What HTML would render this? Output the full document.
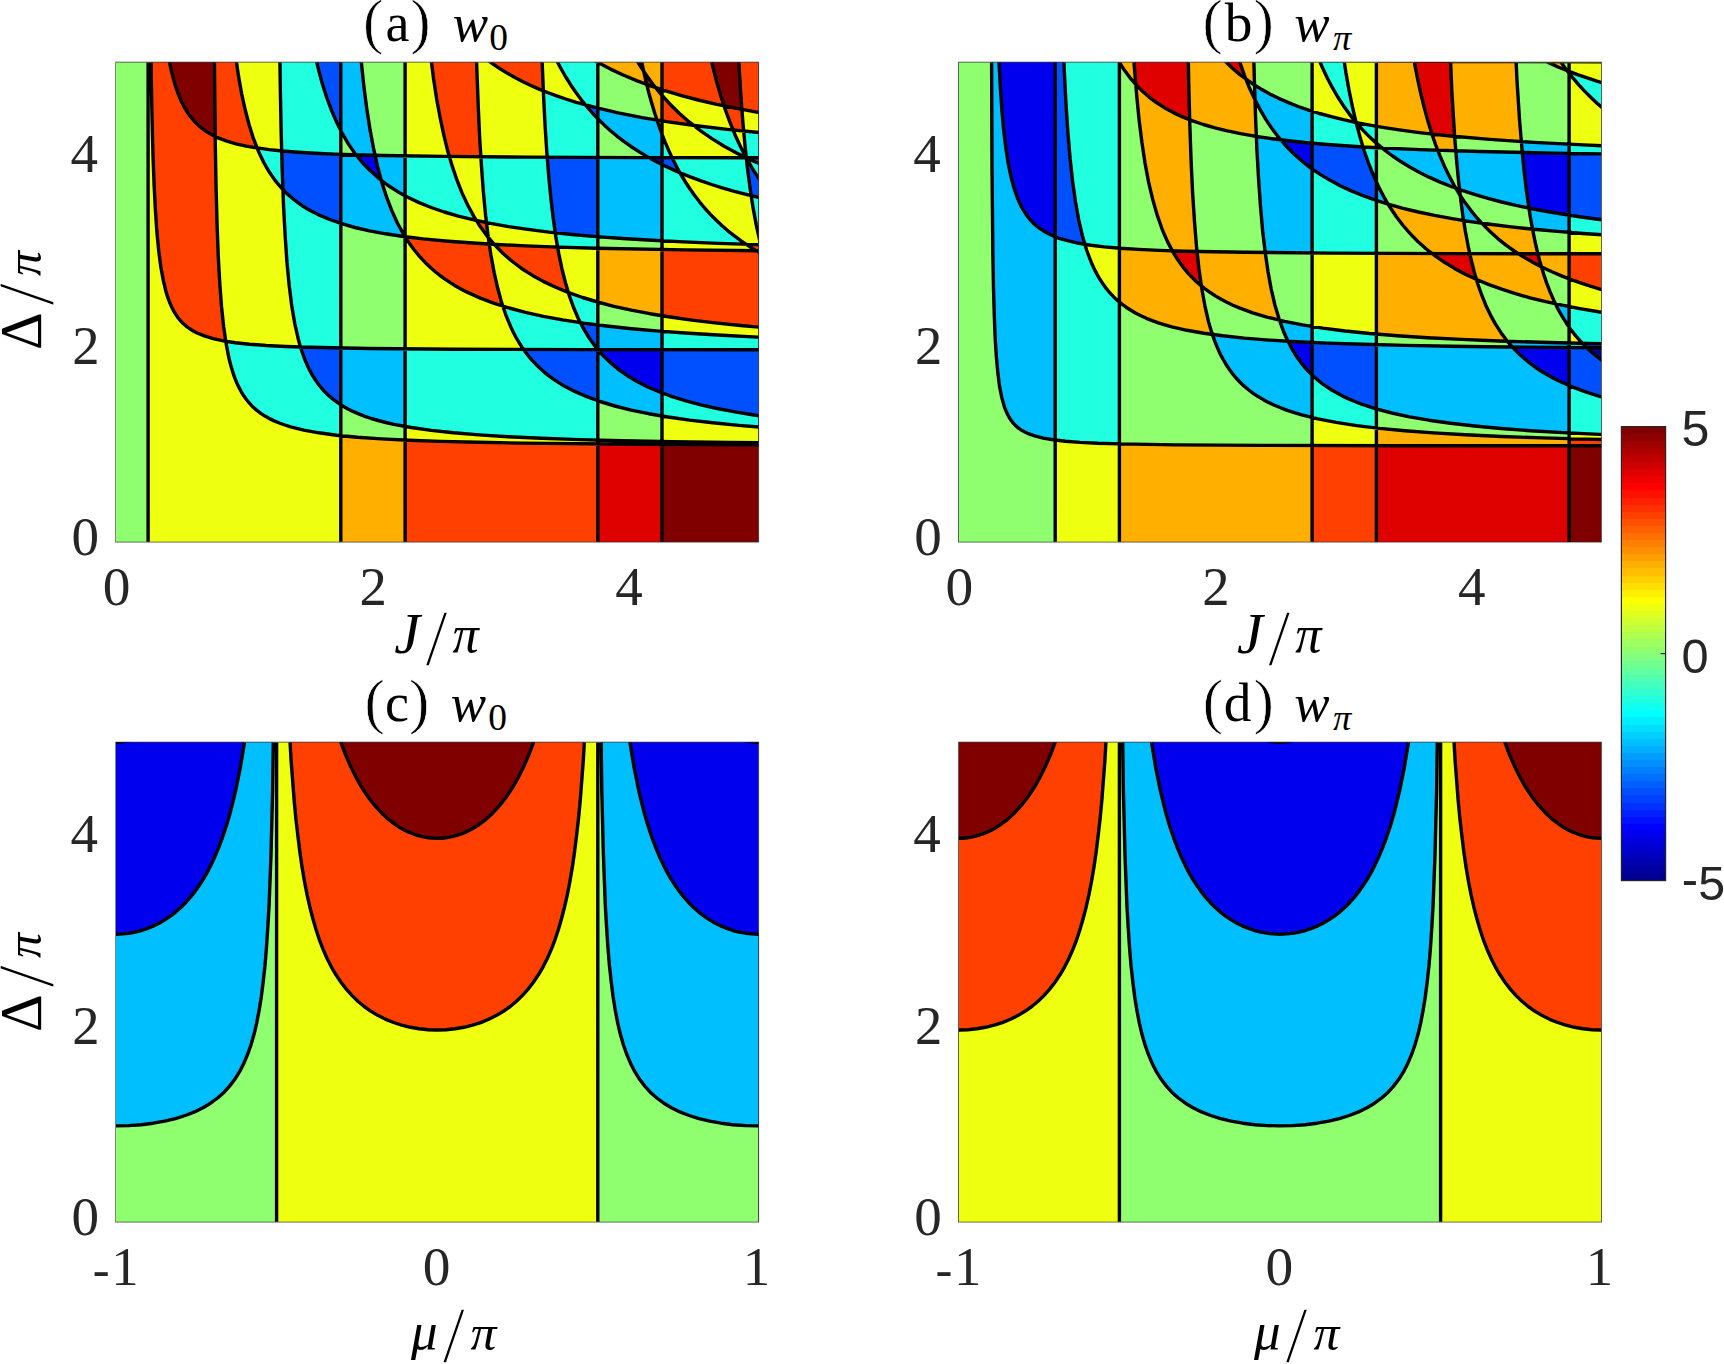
<!DOCTYPE html>
<html lang="en"><head><meta charset="utf-8"><title>Winding numbers w0 and w&#960; phase diagrams</title>
<style>html,body{margin:0;padding:0;background:#fff;}svg{display:block;}text{font-family:"Liberation Serif", "DejaVu Serif", serif;fill:#262626;}text.k{fill:#000;}.a{font-family:"Liberation Sans", "DejaVu Sans", sans-serif;}</style></head><body>
<svg width="1724" height="1364" viewBox="0 0 1724 1364">
<defs><clipPath id="cp"><rect x="0" y="0" width="642.4" height="479.4"/></clipPath>
<linearGradient id="jet" x1="0" y1="0" x2="0" y2="1"><stop offset="0.0000" stop-color="#800000"/><stop offset="0.0156" stop-color="#800000"/><stop offset="0.0156" stop-color="#8f0000"/><stop offset="0.0312" stop-color="#8f0000"/><stop offset="0.0312" stop-color="#9f0000"/><stop offset="0.0469" stop-color="#9f0000"/><stop offset="0.0469" stop-color="#af0000"/><stop offset="0.0625" stop-color="#af0000"/><stop offset="0.0625" stop-color="#bf0000"/><stop offset="0.0781" stop-color="#bf0000"/><stop offset="0.0781" stop-color="#cf0000"/><stop offset="0.0938" stop-color="#cf0000"/><stop offset="0.0938" stop-color="#df0000"/><stop offset="0.1094" stop-color="#df0000"/><stop offset="0.1094" stop-color="#ef0000"/><stop offset="0.1250" stop-color="#ef0000"/><stop offset="0.1250" stop-color="#ff0000"/><stop offset="0.1406" stop-color="#ff0000"/><stop offset="0.1406" stop-color="#ff1000"/><stop offset="0.1562" stop-color="#ff1000"/><stop offset="0.1562" stop-color="#ff2000"/><stop offset="0.1719" stop-color="#ff2000"/><stop offset="0.1719" stop-color="#ff3000"/><stop offset="0.1875" stop-color="#ff3000"/><stop offset="0.1875" stop-color="#ff4000"/><stop offset="0.2031" stop-color="#ff4000"/><stop offset="0.2031" stop-color="#ff5000"/><stop offset="0.2188" stop-color="#ff5000"/><stop offset="0.2188" stop-color="#ff6000"/><stop offset="0.2344" stop-color="#ff6000"/><stop offset="0.2344" stop-color="#ff7000"/><stop offset="0.2500" stop-color="#ff7000"/><stop offset="0.2500" stop-color="#ff8000"/><stop offset="0.2656" stop-color="#ff8000"/><stop offset="0.2656" stop-color="#ff8f00"/><stop offset="0.2812" stop-color="#ff8f00"/><stop offset="0.2812" stop-color="#ff9f00"/><stop offset="0.2969" stop-color="#ff9f00"/><stop offset="0.2969" stop-color="#ffaf00"/><stop offset="0.3125" stop-color="#ffaf00"/><stop offset="0.3125" stop-color="#ffbf00"/><stop offset="0.3281" stop-color="#ffbf00"/><stop offset="0.3281" stop-color="#ffcf00"/><stop offset="0.3438" stop-color="#ffcf00"/><stop offset="0.3438" stop-color="#ffdf00"/><stop offset="0.3594" stop-color="#ffdf00"/><stop offset="0.3594" stop-color="#ffef00"/><stop offset="0.3750" stop-color="#ffef00"/><stop offset="0.3750" stop-color="#ffff00"/><stop offset="0.3906" stop-color="#ffff00"/><stop offset="0.3906" stop-color="#efff10"/><stop offset="0.4062" stop-color="#efff10"/><stop offset="0.4062" stop-color="#dfff20"/><stop offset="0.4219" stop-color="#dfff20"/><stop offset="0.4219" stop-color="#cfff30"/><stop offset="0.4375" stop-color="#cfff30"/><stop offset="0.4375" stop-color="#bfff40"/><stop offset="0.4531" stop-color="#bfff40"/><stop offset="0.4531" stop-color="#afff50"/><stop offset="0.4688" stop-color="#afff50"/><stop offset="0.4688" stop-color="#9fff60"/><stop offset="0.4844" stop-color="#9fff60"/><stop offset="0.4844" stop-color="#8fff70"/><stop offset="0.5000" stop-color="#8fff70"/><stop offset="0.5000" stop-color="#80ff80"/><stop offset="0.5156" stop-color="#80ff80"/><stop offset="0.5156" stop-color="#70ff8f"/><stop offset="0.5312" stop-color="#70ff8f"/><stop offset="0.5312" stop-color="#60ff9f"/><stop offset="0.5469" stop-color="#60ff9f"/><stop offset="0.5469" stop-color="#50ffaf"/><stop offset="0.5625" stop-color="#50ffaf"/><stop offset="0.5625" stop-color="#40ffbf"/><stop offset="0.5781" stop-color="#40ffbf"/><stop offset="0.5781" stop-color="#30ffcf"/><stop offset="0.5938" stop-color="#30ffcf"/><stop offset="0.5938" stop-color="#20ffdf"/><stop offset="0.6094" stop-color="#20ffdf"/><stop offset="0.6094" stop-color="#10ffef"/><stop offset="0.6250" stop-color="#10ffef"/><stop offset="0.6250" stop-color="#00ffff"/><stop offset="0.6406" stop-color="#00ffff"/><stop offset="0.6406" stop-color="#00efff"/><stop offset="0.6562" stop-color="#00efff"/><stop offset="0.6562" stop-color="#00dfff"/><stop offset="0.6719" stop-color="#00dfff"/><stop offset="0.6719" stop-color="#00cfff"/><stop offset="0.6875" stop-color="#00cfff"/><stop offset="0.6875" stop-color="#00bfff"/><stop offset="0.7031" stop-color="#00bfff"/><stop offset="0.7031" stop-color="#00afff"/><stop offset="0.7188" stop-color="#00afff"/><stop offset="0.7188" stop-color="#009fff"/><stop offset="0.7344" stop-color="#009fff"/><stop offset="0.7344" stop-color="#008fff"/><stop offset="0.7500" stop-color="#008fff"/><stop offset="0.7500" stop-color="#0080ff"/><stop offset="0.7656" stop-color="#0080ff"/><stop offset="0.7656" stop-color="#0070ff"/><stop offset="0.7812" stop-color="#0070ff"/><stop offset="0.7812" stop-color="#0060ff"/><stop offset="0.7969" stop-color="#0060ff"/><stop offset="0.7969" stop-color="#0050ff"/><stop offset="0.8125" stop-color="#0050ff"/><stop offset="0.8125" stop-color="#0040ff"/><stop offset="0.8281" stop-color="#0040ff"/><stop offset="0.8281" stop-color="#0030ff"/><stop offset="0.8438" stop-color="#0030ff"/><stop offset="0.8438" stop-color="#0020ff"/><stop offset="0.8594" stop-color="#0020ff"/><stop offset="0.8594" stop-color="#0010ff"/><stop offset="0.8750" stop-color="#0010ff"/><stop offset="0.8750" stop-color="#0000ff"/><stop offset="0.8906" stop-color="#0000ff"/><stop offset="0.8906" stop-color="#0000ef"/><stop offset="0.9062" stop-color="#0000ef"/><stop offset="0.9062" stop-color="#0000df"/><stop offset="0.9219" stop-color="#0000df"/><stop offset="0.9219" stop-color="#0000cf"/><stop offset="0.9375" stop-color="#0000cf"/><stop offset="0.9375" stop-color="#0000bf"/><stop offset="0.9531" stop-color="#0000bf"/><stop offset="0.9531" stop-color="#0000af"/><stop offset="0.9688" stop-color="#0000af"/><stop offset="0.9688" stop-color="#00009f"/><stop offset="0.9844" stop-color="#00009f"/><stop offset="0.9844" stop-color="#00008f"/><stop offset="1.0000" stop-color="#00008f"/></linearGradient></defs>
<rect width="1724" height="1364" fill="#fff"/>
<rect x="116" y="62.4" width="642.4" height="479.4" fill="none" stroke="#262626" stroke-opacity="0.8" stroke-width="1.4"/>
<g transform="translate(116,62.4)" clip-path="url(#cp)">
<rect width="642.4" height="479.4" fill="#000"/>
<g shape-rendering="crispEdges">
<path fill="#0000ef" fill-rule="evenodd" d="M546 95.2L533 95.2L539 98.5L546 102.1ZM254.1 108.2L262.5 115.7L265.3 117.9L261.5 103.7L259 92.8L240 92.3L246.3 100.1ZM481.9 287.2L486.5 292.6L494.1 300L502.3 306.9L511.4 313.3L521.1 319.1L531.8 324.6L543.6 329.6L546 330.5L546 287.3Z"/>
<path fill="#0050ff" fill-rule="evenodd" d="M210.7 35.1L215.5 48L220.8 60.2L224.8 68.2L224.8 0L200.8 0L202.1 5.6L206.2 21ZM170.3 130.5L174.2 134.1L178.4 137.6L182.6 140.8L187.1 143.9L191.9 146.8L197 149.6L202.2 152.2L213.6 157.1L224.8 161L224.8 91.9L218.5 91.7L198.9 90.8L182 89.8L166.7 88.6L165.7 88.5L166.3 110.6L167 127.2ZM437.2 155.9L439.3 170.3L455.9 172.1L480.2 174.2L481.8 174.3L481.8 95L431.2 94.8L432.8 114.4L434.9 136.2ZM481.8 287.1L481.8 262.5L467.6 260.7L464.4 260.2L467.5 266.2L473.2 275.6L479.5 284.4ZM412.7 293.9L416.4 298.2L420.3 302.3L424.3 306.2L428.4 309.9L432.9 313.5L437.7 316.9L442.6 320.2L447.7 323.3L458.7 329L470.8 334.3L481.8 338.3L481.8 287.2L469.8 287.2L407.6 287L409.3 289.5ZM190.8 301.8L193.4 307.3L196.1 312.4L199.1 317.1L202.3 321.7L205.7 325.9L209.3 329.9L213.1 333.6L217.2 337L221.6 340.2L224.8 342.4L224.8 285.5L193.2 284.9L184.5 284.6L186.2 289.9L188.4 296.1ZM475.9 50.1L481.8 56.3L481.8 45.7L480 45.3L469.3 42.4L470.2 43.5ZM630.4 95.4L634.7 97.5L642.4 100.8L642.4 95.4ZM556.3 107L563.9 110.3L560.5 104.1L556.5 96.2L556 95.2L546 95.2L546 102.1L547.5 102.8ZM634.1 126L635.2 133.2L642.4 134.9L642.4 115.4L636.3 106L630.3 95.5L631.4 105.4ZM584.8 342.4L601.2 346.1L619 349.5L638 352.6L642.4 353.2L642.4 287.4L546 287.3L546 330.5L556.2 334.3L569.9 338.5Z"/>
<path fill="#00bfff" fill-rule="evenodd" d="M239.2 91.3L240 92.3L259 92.8L257.6 86.3L254 67L250.7 45.9L247.8 23.2L245.3 0L224.8 0L224.8 68.2L226.4 71.3L232.5 81.7ZM542.1 61L541 57.6L526.2 55.2L502.2 50.5L481.8 45.7L481.8 56.3L481.9 56.4L488.1 62.5L494.5 68.3L501.2 73.9L508.2 79.2L515.3 84.3L522.9 89.2L530.8 94L533 95.2L546 95.2L546 71.9L545.5 70.5ZM259 92.8L261.5 103.7L265.3 117.9L271.4 122.6L281.3 129L289.1 133.4L289.1 93.4L266.6 93.1ZM281.5 160.8L275.8 148.2L270.6 134.7L265.8 120L265.3 117.9L262.5 115.7L254.1 108.2L246.3 100.1L240 92.3L224.8 91.9L224.8 161L225.7 161.3L238.9 165.1L253.6 168.4L269.6 171.4L287.5 174.1L289.1 174.3L287.8 172.2ZM533 95.2L523 95.2L481.8 95L481.8 174.3L506.8 176.1L535.8 177.9L546 178.4L546 102.1L539 98.5ZM515.6 266.3L490.6 263.6L481.8 262.5L481.8 287.1L481.9 287.2L546 287.3L546 269L543 268.7ZM531.8 324.6L521.1 319.1L511.4 313.3L502.3 306.9L494.1 300L486.5 292.6L481.9 287.2L481.8 287.2L481.8 338.3L484.1 339.1L498.9 343.6L515.2 347.7L532.8 351.3L546 353.6L546 330.5L543.6 329.6ZM224.8 285.5L224.8 342.4L226.4 343.4L231.5 346.3L236.9 349L242.7 351.5L248.8 353.9L255.3 356.1L262.3 358.1L269.8 360.1L277.9 361.9L289.1 364L289.1 286.4L252.5 286.1Z"/>
<path fill="#20ffdf" fill-rule="evenodd" d="M166.7 88.6L182 89.8L198.9 90.8L218.5 91.7L224.8 91.9L224.8 68.2L220.8 60.2L215.5 48L210.7 35.1L206.2 21L202.1 5.6L200.8 0L163.9 0L164.3 25.2L165.2 71.2L165.7 88.5ZM431.2 94.8L481.8 95L481.8 56.3L475.9 50.1L470.2 43.5L469.3 42.4L459.5 39.7L449.8 36.6L440.6 33.4L431.6 30.1L427.4 28.4L427.7 36.5L429.2 65.2L430.9 91ZM141.2 85.5L141.1 85.5L142.2 88.3L147.4 99.3L150.2 104.4L153.1 109.3L156.3 114L159.5 118.5L163 122.8L166.5 126.7L167 127.2L166.3 110.6L165.7 88.5L153.2 87.2ZM328.3 149.6L342.4 153.7L357.9 157.5L360.4 158L357.8 154L351.8 142.8L346.1 130.7L341 117.8L336.3 104L333.4 94.1L328.2 94L289.1 93.4L289.1 133.4L291.8 134.9L303.1 140.2L315.2 145.1ZM410.1 94.7L364.9 94.3L365.5 104.1L367.4 129.9L369.6 152.8L370.5 160.2L374.7 161L392.6 164.2L411.9 167L433 169.7L439.3 170.3L437.2 155.9L434.9 136.2L432.8 114.4L431.2 94.8ZM480 185.8L481.8 185.8L481.8 174.3L480.2 174.2L455.9 172.1L439.3 170.3L439.8 174.3L441.6 184.7L443.1 184.7ZM373.3 181.6L378.2 181.9L372.3 175ZM175.7 243.1L178.7 260.9L182.2 276.3L184.1 283.3L184.5 284.6L193.2 284.9L224.8 285.5L224.8 161L213.6 157.1L202.2 152.2L197 149.6L191.9 146.8L187.1 143.9L182.6 140.8L178.4 137.6L174.2 134.1L170.3 130.5L167 127.2L167.6 144.6L169.2 174.1L171 200.3L173.2 223.1ZM464.4 260.2L446.6 257.5L427.3 253.9L409.5 250L393.1 245.6L386.8 243.7L389.8 252.4L394.7 264.2L397.3 269.8L400.1 275.1L403 280.1L406 284.8L407.6 287L469.8 287.2L481.8 287.2L481.8 287.1L479.5 284.4L473.2 275.6L467.5 266.2ZM205.7 325.9L202.3 321.7L199.1 317.1L196.1 312.4L193.4 307.3L190.8 301.8L188.4 296.1L186.2 289.9L184.5 284.6L169.6 284.1L150.2 283.1L133.6 281.8L119.4 280.3L109.8 278.8L110.1 281.1L113 296L114.7 302.6L116.5 308.7L118.4 314.5L120.5 319.8L122.8 324.7L125.3 329.4L127.9 333.7L130.8 337.6L133.9 341.3L137.3 344.9L140.9 348L144.8 351L149 353.7L153.4 356.2L158.1 358.5L163.3 360.6L168.9 362.6L174.7 364.5L187.8 367.7L202.9 370.4L220.6 372.8L224.8 373.2L224.8 342.4L221.6 340.2L217.2 337L213.1 333.6L209.3 329.9ZM362.9 372.5L392.2 374.3L425.8 375.9L463.3 377.2L481.8 377.7L481.8 338.3L470.8 334.3L458.7 329L447.7 323.3L442.6 320.2L437.7 316.9L432.9 313.5L428.4 309.9L424.3 306.2L420.3 302.3L416.4 298.2L412.7 293.9L409.3 289.5L407.6 287L338.8 286.8L289.1 286.4L289.1 364L295.3 365.1L315.2 368L337.6 370.4ZM441.7 0L445.2 6.6L449.8 14.6L454.6 22.3L459.6 29.6L464.9 36.8L469.3 42.4L480 45.3L481.8 45.7L481.8 0ZM611.2 67L580.5 63.4L577.7 63L584.4 68.3L595.9 76.2L608.2 83.8L621 90.8L630.2 95.3L624.6 84.4L619.2 72.8L617.1 67.5ZM627.7 68.5L629 83.1L630.3 95.3L630.4 95.4L642.4 95.4L642.4 70ZM546 71.9L546 95.2L556 95.2L552.7 88L549 79.4ZM630.4 95.4L630.3 95.4L630.3 95.5L636.3 106L642.4 115.4L642.4 100.8L634.7 97.5ZM556.5 96.2L560.5 104.1L563.9 110.3L565.4 111L575 114.8L585.1 118.5L595.6 122.1L606.3 125.4L617.5 128.7L629.1 131.7L635.2 133.2L634.1 126L631.4 105.4L630.3 95.5L630.2 95.4L556 95.2ZM625.1 178.4L618.4 173.5L611.9 168.4L605.8 163.1L599.8 157.4L594.1 151.7L588.6 145.6L583.5 139.4L578.5 132.9L573.7 126.1L569.1 119.1L564.7 111.8L563.9 110.3L556.3 107L547.5 102.8L546 102.1L546 178.4L567.6 179.5L602.6 181L630.1 181.8ZM642.4 134.9L635.2 133.2L637 145L640.3 162.7L642.4 172ZM464.4 260.2L467.6 260.7L481.8 262.5L481.8 239.7L481.6 239.6L466.6 235.1L452.7 230.2L452.4 230.1L453.3 233.2L457.6 245.1L462.3 256.1ZM606.1 272.9L573 270.9L546 269L546 287.3L642.4 287.4L642.4 274.7L641.7 274.7ZM622.6 363L642.4 364.6L642.4 353.2L638 352.6L619 349.5L601.2 346.1L584.8 342.4L569.9 338.5L556.2 334.3L546 330.5L546 353.6L552.2 354.6L573.6 357.7L596.8 360.4Z"/>
<path fill="#8fff70" fill-rule="evenodd" d="M247.8 23.2L250.7 45.9L254 67L257.6 86.3L259 92.8L266.6 93.1L289.1 93.4L289.1 0L245.3 0ZM522.9 89.2L515.3 84.3L508.2 79.2L501.2 73.9L494.5 68.3L488.1 62.5L481.9 56.4L481.8 56.3L481.8 95L523 95.2L533 95.2L530.8 94ZM224.8 68.2L224.8 91.9L240 92.3L239.2 91.3L232.5 81.7L226.4 71.3ZM265.3 117.9L265.8 120L270.6 134.7L275.8 148.2L281.5 160.8L287.8 172.2L289.1 174.3L289.1 133.4L281.3 129L271.4 122.6ZM253.6 168.4L238.9 165.1L225.7 161.3L224.8 161L224.8 285.5L252.5 286.1L289.1 286.4L289.1 174.3L287.5 174.1L269.6 171.4ZM32.1 479.4L32.1 0L0 0L0 479.4ZM262.3 358.1L255.3 356.1L248.8 353.9L242.7 351.5L236.9 349L231.5 346.3L226.4 343.4L224.8 342.4L224.8 373.2L241.4 374.8L265.3 376.5L289.1 377.7L289.1 364L277.9 361.9L269.8 360.1ZM522 0L527.8 9.1L525.7 0ZM482.5 0.4L481.8 0L481.8 45.7L502.2 50.5L526.2 55.2L541 57.6L538.9 51.3L535.9 41.3L532.9 30.7L530.7 22L520.6 18.2L507.2 12.6L494.5 6.7ZM546 32.9L546 27.3L539.6 25.1L544.5 31.3ZM545.5 70.5L546 71.9L546 58.5L541 57.6L542.1 61ZM481.8 174.3L481.8 185.8L546 187.1L546 178.4L535.8 177.9L506.8 176.1ZM497.9 243.9L481.8 239.7L481.8 262.5L490.6 263.6L515.6 266.3L543 268.7L546 269L546 253.3L533.9 251.3L515.3 247.8ZM498.9 343.6L484.1 339.1L481.8 338.3L481.8 377.7L506.4 378.3L546 379.1L546 353.6L532.8 351.3L515.2 347.7Z"/>
<path fill="#efff10" fill-rule="evenodd" d="M120.5 0L122.4 13L125.6 31.1L129.2 47.4L133.1 62.4L137.4 76L141.1 85.5L141.2 85.5L153.2 87.2L165.7 88.5L165.2 71.2L164.3 25.2L163.9 0ZM331.8 88.9L327.9 73L324.2 55.6L320.7 36.8L317.6 16.6L315.5 0L289.1 0L289.1 93.4L328.2 94L333.4 94.1ZM427.4 28.4L423.1 26.7L414.9 23.1L407 19.3L399.4 15.4L392 11.2L384.9 6.9L378.2 2.4L374.8 0L360.6 0L361 10.6L362.3 45.3L363.7 76L364.9 94.3L410.1 94.7L431.2 94.8L430.9 91L429.2 65.2L427.7 36.5ZM357.8 154L360.4 158L370.5 160.2L369.6 152.8L367.4 129.9L365.5 104.1L364.9 94.3L333.4 94.1L336.3 104L341 117.8L346.1 130.7L351.8 142.8ZM353.5 180.4L373.3 181.6L372.3 175L371.4 174L364.4 164.4L360.4 158L357.9 157.5L342.4 153.7L328.3 149.6L315.2 145.1L303.1 140.2L291.8 134.9L289.1 133.4L289.1 174.3L307.2 176.5L329.2 178.6ZM411.9 167L392.6 164.2L374.7 161L370.5 160.2L372.1 173.8L372.3 175L378.2 181.9L380.3 182.1L409.7 183.5L441.6 184.7L439.8 174.3L439.3 170.3L433 169.7ZM175.7 243.1L173.2 223.1L171 200.3L169.2 174.1L167.6 144.6L167 127.2L166.5 126.7L163 122.8L159.5 118.5L156.3 114L153.1 109.3L150.2 104.4L147.4 99.3L142.2 88.3L141.1 85.5L130.2 83.7L120 81.4L110.9 78.7L102.8 75.7L99.2 73.9L99.3 83.1L100.1 126.3L101.1 163.1L102.3 194.8L103.8 221.4L105.5 244L107.6 263.8L109.8 278.8L119.4 280.3L133.6 281.8L150.2 283.1L169.6 284.1L184.5 284.6L184.1 283.3L182.2 276.3L178.7 260.9ZM452.4 230.1L439.7 224.9L427.7 219.2L416.5 213L405.9 206.3L396.4 199.1L387.4 191.4L379.1 183L378.2 181.9L373.3 181.6L374.9 192.6L378.1 209.9L381.6 225.4L385.4 239.5L386.8 243.7L393.1 245.6L409.5 250L427.3 253.9L446.6 257.5L464.4 260.2L462.3 256.1L457.6 245.1L453.3 233.2ZM403 280.1L400.1 275.1L397.3 269.8L394.7 264.2L389.8 252.4L386.8 243.7L378.2 240.9L364.4 235.7L351.6 230L345.8 227L340 223.8L334.7 220.5L329.4 217L324.5 213.4L319.6 209.6L315 205.6L310.5 201.4L306.3 197L302.2 192.4L298.3 187.6L294.7 182.8L291.1 177.5L289.1 174.3L289.1 286.4L338.8 286.8L407.6 287L406 284.8ZM202.9 370.4L187.8 367.7L174.7 364.5L168.9 362.6L163.3 360.6L158.1 358.5L153.4 356.2L149 353.7L144.8 351L140.9 348L137.3 344.9L133.9 341.3L130.8 337.6L127.9 333.7L125.3 329.4L122.8 324.7L120.5 319.8L118.4 314.5L116.5 308.7L114.7 302.6L113 296L110.1 281.1L109.8 278.8L107.5 278.5L97.2 276.2L88.3 273.5L80.6 270.3L76.9 268.3L73.4 266.1L70.1 263.7L67.2 261.1L64.4 258.2L61.9 255.1L59.6 251.7L57.4 248L55.4 244L53.5 239.6L51.7 234.8L50.1 229.6L47.3 218L44.8 204.3L42.7 188.3L40.9 169.6L39.4 147.8L38.1 122.6L37 93.2L36.1 58.8L35.3 18.8L35.1 0L32.1 0L32.1 479.4L224.8 479.4L224.8 373.2L220.6 372.8ZM362.2 379.9L406.2 380.7L481.8 381.5L481.8 377.7L463.3 377.2L425.8 375.9L392.2 374.3L362.9 372.5L337.6 370.4L315.2 368L295.3 365.1L289.1 364L289.1 377.7L292.8 377.9L324.5 379ZM440.6 33.4L449.8 36.6L459.5 39.7L469.3 42.4L464.9 36.8L459.6 29.6L454.6 22.3L449.8 14.6L445.2 6.6L441.7 0L426.2 0L426.4 5.6L427.4 28.4L431.6 30.1ZM573.5 59.8L577.7 63L580.5 63.4L611.2 67L617.1 67.5L614.2 60.5L609.4 47.6L608.1 43.4L599.7 41.7L582.2 37.6L565.5 33.2L549.7 28.5L546 27.3L546 32.9L553.6 41.3L563.2 50.8ZM642.4 70L642.4 49.9L638 49.2L625.9 46.9L626.8 58.7L627.7 68.5ZM630.2 95.4L630.2 95.3L621 90.8L608.2 83.8L595.9 76.2L584.4 68.3L577.7 63L552.4 59.5L546 58.5L546 71.9L549 79.4L552.7 88L556 95.2ZM630.3 95.3L629 83.1L627.7 68.5L617.1 67.5L619.2 72.8L624.6 84.4L630.2 95.3ZM635.2 133.2L629.1 131.7L617.5 128.7L606.3 125.4L595.6 122.1L585.1 118.5L575 114.8L565.4 111L563.9 110.3L564.7 111.8L569.1 119.1L573.7 126.1L578.5 132.9L583.5 139.4L588.6 145.6L594.1 151.7L599.8 157.4L605.8 163.1L611.9 168.4L618.4 173.5L625.1 178.4L630.1 181.8L642.4 182.2L642.4 172L640.3 162.7L637 145ZM632.1 183.2L630.1 181.8L602.6 181L567.6 179.5L546 178.4L546 187.1L569.1 187.5L640.5 188.4L639.4 187.7ZM452.4 230.1L452.7 230.2L466.6 235.1L481.6 239.6L481.8 239.7L481.8 185.8L480 185.8L443.1 184.7L441.6 184.7L442.7 191L445.9 206.2L449.4 220.1ZM642.4 274.7L642.4 264.6L624.6 263.1L599 260.5L575.8 257.7L554.1 254.6L546 253.3L546 269L573 270.9L606.1 272.9L641.7 274.7ZM642.4 364.6L622.6 363L596.8 360.4L573.6 357.7L552.2 354.6L546 353.6L546 379.1L556.1 379.3L613.7 380.1L642.4 380.3Z"/>
<path fill="#ffaf00" fill-rule="evenodd" d="M481.8 0L482.5 0.4L494.5 6.7L507.2 12.6L520.6 18.2L530.7 22L530.2 19.9L527.8 9.1L522 0ZM527.8 9.1L527.9 9.3L535.9 20.6L539.6 25.1L546 27.3L546 0L525.7 0ZM539.6 25.1L534.7 23.5L530.7 22L532.9 30.7L535.9 41.3L538.9 51.3L541 57.6L546 58.5L546 32.9L544.5 31.3ZM481.8 185.8L481.8 239.7L497.9 243.9L515.3 247.8L533.9 251.3L546 253.3L546 187.1ZM481.8 377.7L481.8 381.5L519.4 381.8L546 381.9L546 379.1L506.4 378.3ZM241.4 374.8L224.8 373.2L224.8 479.4L289.1 479.4L289.1 377.7L265.3 376.5Z"/>
<path fill="#ff4000" fill-rule="evenodd" d="M374.8 0L378.2 2.4L384.9 6.9L392 11.2L399.4 15.4L407 19.3L414.9 23.1L423.1 26.7L427.4 28.4L426.4 5.6L426.2 0ZM130.2 83.7L141.1 85.5L137.4 76L133.1 62.4L129.2 47.4L125.6 31.1L122.4 13L120.5 0L98.4 0L99.2 73.9L102.8 75.7L110.9 78.7L120 81.4ZM327.9 73L331.8 88.9L333.4 94.1L364.9 94.3L363.7 76L362.3 45.3L361 10.6L360.6 0L315.5 0L317.6 16.6L320.7 36.8L324.2 55.6ZM38.1 122.6L39.4 147.8L40.9 169.6L42.7 188.3L44.8 204.3L47.3 218L50.1 229.6L51.7 234.8L53.5 239.6L55.4 244L57.4 248L59.6 251.7L61.9 255.1L64.4 258.2L67.2 261.1L70.1 263.7L73.4 266.1L76.9 268.3L80.6 270.3L88.3 273.5L97.2 276.2L107.5 278.5L109.8 278.8L107.6 263.8L105.5 244L103.8 221.4L102.3 194.8L101.1 163.1L100.1 126.3L99.3 83.1L99.2 73.9L95.6 72.2L89.1 68.3L83.3 63.7L78.1 58.6L73.3 52.8L69.1 46.2L65.2 38.7L61.8 30.4L58.6 21L55.8 10.5L53.6 0L35.1 0L35.3 18.8L36.1 58.8L37 93.2ZM372.1 173.8L370.5 160.2L360.4 158L364.4 164.4L371.4 174L372.3 175ZM441.6 184.7L409.7 183.5L380.3 182.1L378.2 181.9L379.1 183L387.4 191.4L396.4 199.1L405.9 206.3L416.5 213L427.7 219.2L439.7 224.9L452.4 230.1L449.4 220.1L445.9 206.2L442.7 191ZM289.1 174.3L291.1 177.5L294.7 182.8L298.3 187.6L302.2 192.4L306.3 197L310.5 201.4L315 205.6L319.6 209.6L324.5 213.4L329.4 217L334.7 220.5L340 223.8L345.8 227L351.6 230L364.4 235.7L378.2 240.9L386.8 243.7L385.4 239.5L381.6 225.4L378.1 209.9L374.9 192.6L373.3 181.6L353.5 180.4L329.2 178.6L307.2 176.5ZM406.2 380.7L362.2 379.9L324.5 379L292.8 377.9L289.1 377.7L289.1 479.4L481.8 479.4L481.8 381.5ZM582.2 37.6L599.7 41.7L608.1 43.4L604.9 33.9L600.7 19.5L596.8 4.2L595.8 0L546 0L546 27.3L549.7 28.5L565.5 33.2ZM622.9 0L623 3.3L624.8 32.2L625.9 46.9L638 49.2L642.4 49.9L642.4 0ZM573.5 59.8L563.2 50.8L553.6 41.3L546 32.9L546 58.5L552.4 59.5L577.7 63ZM627.7 68.5L626.8 58.7L625.9 46.9L618.3 45.5L608.1 43.4L609.4 47.6L614.2 60.5L617.1 67.5ZM640.5 188.4L642.4 188.4L642.4 182.2L630.1 181.8L632.1 183.2L639.4 187.7ZM599 260.5L624.6 263.1L642.4 264.6L642.4 189.4L640.5 188.4L569.1 187.5L546 187.1L546 253.3L554.1 254.6L575.8 257.7ZM613.7 380.1L556.1 379.3L546 379.1L546 381.9L642.4 382.4L642.4 380.3Z"/>
<path fill="#df0000" fill-rule="evenodd" d="M535.9 20.6L527.9 9.3L527.8 9.1L530.2 19.9L530.7 22L534.7 23.5L539.6 25.1ZM546 381.9L519.4 381.8L481.8 381.5L481.8 479.4L546 479.4Z"/>
<path fill="#800000" fill-rule="evenodd" d="M600.7 19.5L604.9 33.9L608.1 43.4L618.3 45.5L625.9 46.9L624.8 32.2L623 3.3L622.9 0L595.8 0L596.8 4.2ZM58.6 21L61.8 30.4L65.2 38.7L69.1 46.2L73.3 52.8L78.1 58.6L83.3 63.7L89.1 68.3L95.6 72.2L99.2 73.9L98.4 0L53.6 0L55.8 10.5ZM642.4 189.4L642.4 188.4L640.5 188.4ZM642.4 479.4L642.4 382.4L546 381.9L546 479.4Z"/>
</g>
<path fill="none" stroke="#000" stroke-width="3.4" stroke-linejoin="round" d="M546 -3L546 482.4M595.1 -3L596.8 4.2L600.7 19.5L604.9 33.9L609.4 47.6L614.2 60.5L619.2 72.8L624.6 84.4L630.3 95.5L636.3 106L642.7 115.9L645.4 119.6M426.1 -3L426.4 5.6L427.7 36.5L429.2 65.2L430.9 91L432.8 114.4L434.9 136.2L437.2 155.9L439.8 174.3L442.7 191L445.9 206.2L449.4 220.1L453.3 233.2L457.6 245.1L462.3 256.1L467.5 266.2L473.2 275.6L479.5 284.4L486.5 292.6L494.1 300L502.3 306.9L511.4 313.3L521.1 319.1L531.8 324.6L543.6 329.6L556.2 334.3L569.9 338.5L584.8 342.4L601.2 346.1L619 349.5L638 352.6L645.4 353.6M520.2 -3L520.4 -2.6L527.9 9.3L535.9 20.6L544.5 31.3L553.6 41.3L563.2 50.8L573.5 59.8L584.4 68.3L595.9 76.2L608.2 83.8L621 90.8L634.7 97.5L645.4 102.1M289.1 -3L289.1 482.4M315.1 -3L317.6 16.6L320.7 36.8L324.2 55.6L327.9 73L331.8 88.9L336.3 104L341 117.8L346.1 130.7L351.8 142.8L357.8 154L364.4 164.4L371.4 174L379.1 183L387.4 191.4L396.4 199.1L405.9 206.3L416.5 213L427.7 219.2L439.7 224.9L452.7 230.2L466.6 235.1L481.6 239.6L497.9 243.9L515.3 247.8L533.9 251.3L554.1 254.6L575.8 257.7L599 260.5L624.6 263.1L645.4 264.9M476.7 -3L482.5 0.4L494.5 6.7L507.2 12.6L520.6 18.2L534.7 23.5L549.7 28.5L565.5 33.2L582.2 37.6L599.7 41.7L618.3 45.5L638 49.2L645.4 50.4M163.9 -3L164.3 25.2L165.2 71.2L166.3 110.6L167.6 144.6L169.2 174.1L171 200.3L173.2 223.1L175.7 243.1L178.7 260.9L182.2 276.3L184.1 283.3L186.2 289.9L188.4 296.1L190.8 301.8L193.4 307.3L196.1 312.4L199.1 317.1L202.3 321.7L205.7 325.9L209.3 329.9L213.1 333.6L217.2 337L221.6 340.2L226.4 343.4L231.5 346.3L236.9 349L242.7 351.5L248.8 353.9L255.3 356.1L262.3 358.1L269.8 360.1L277.9 361.9L295.3 365.1L315.2 368L337.6 370.4L362.9 372.5L392.2 374.3L425.8 375.9L463.3 377.2L506.4 378.3L556.1 379.3L613.7 380.1L645.4 380.4M200.1 -3L202.1 5.6L206.2 21L210.7 35.1L215.5 48L220.8 60.2L226.4 71.3L232.5 81.7L239.2 91.3L246.3 100.1L254.1 108.2L262.5 115.7L271.4 122.6L281.3 129L291.8 134.9L303.1 140.2L315.2 145.1L328.3 149.6L342.4 153.7L357.9 157.5L374.7 161L392.6 164.2L411.9 167L433 169.7L455.9 172.1L480.2 174.2L506.8 176.1L535.8 177.9L567.6 179.5L602.6 181L645.4 182.3M32.1 -3L32.1 482.4M35 -3L35.3 18.8L36.1 58.8L37 93.2L38.1 122.6L39.4 147.8L40.9 169.6L42.7 188.3L44.8 204.3L47.3 218L50.1 229.6L51.7 234.8L53.5 239.6L55.4 244L57.4 248L59.6 251.7L61.9 255.1L64.4 258.2L67.2 261.1L70.1 263.7L73.4 266.1L76.9 268.3L80.6 270.3L88.3 273.5L97.2 276.2L107.5 278.5L119.4 280.3L133.6 281.8L150.2 283.1L169.6 284.1L193.2 284.9L252.5 286.1L338.8 286.8L469.8 287.2L645.4 287.4M53 -3L53.3 -1.2L55.8 10.5L58.6 21L61.8 30.4L65.2 38.7L69.1 46.2L73.3 52.8L78.1 58.6L83.3 63.7L89.1 68.3L95.6 72.2L102.8 75.7L110.9 78.7L120 81.4L130.2 83.7L141.2 85.5L153.2 87.2L166.7 88.6L182 89.8L198.9 90.8L218.5 91.7L266.6 93.1L328.2 94L410.1 94.7L523 95.2L645.4 95.4M98.4 -3L99.3 83.1L100.1 126.3L101.1 163.1L102.3 194.8L103.8 221.4L105.5 244L107.6 263.8L110.1 281.1L113 296L114.7 302.6L116.5 308.7L118.4 314.5L120.5 319.8L122.8 324.7L125.3 329.4L127.9 333.7L130.8 337.6L133.9 341.3L137.3 344.9L140.9 348L144.8 351L149 353.7L153.4 356.2L158.1 358.5L163.3 360.6L168.9 362.6L174.7 364.5L187.8 367.7L202.9 370.4L220.6 372.8L241.4 374.8L265.3 376.5L292.8 377.9L324.5 379L362.2 379.9L406.2 380.7L519.4 381.8L645.4 382.4M120.1 -3L122.4 13L125.6 31.1L129.2 47.4L133.1 62.4L137.4 76L142.2 88.3L147.4 99.3L150.2 104.4L153.1 109.3L156.3 114L159.5 118.5L163 122.8L166.5 126.7L170.3 130.5L174.2 134.1L178.4 137.6L182.6 140.8L187.1 143.9L191.9 146.8L197 149.6L202.2 152.2L213.6 157.1L225.7 161.3L238.9 165.1L253.6 168.4L269.6 171.4L287.5 174.1L307.2 176.5L329.2 178.6L353.5 180.4L380.3 182.1L409.7 183.5L443.1 184.7L480 185.8L569.1 187.5L645.4 188.4M224.8 -3L224.8 482.4M245 -3L245.2 -1.5L247.8 23.2L250.7 45.9L254 67L257.6 86.3L261.5 103.7L265.8 120L270.6 134.7L275.8 148.2L281.5 160.8L287.8 172.2L291.1 177.5L294.7 182.8L298.3 187.6L302.2 192.4L306.3 197L310.5 201.4L315 205.6L319.6 209.6L324.5 213.4L329.4 217L334.7 220.5L340 223.8L345.8 227L351.6 230L364.4 235.7L378.2 240.9L393.1 245.6L409.5 250L427.3 253.9L446.6 257.5L467.6 260.7L490.6 263.6L515.6 266.3L543 268.7L573 270.9L606.1 272.9L641.7 274.7L645.4 274.8M370.7 -3L371.7 -2.2L378.2 2.4L384.9 6.9L392 11.2L399.4 15.4L407 19.3L414.9 23.1L423.1 26.7L431.6 30.1L440.6 33.4L449.8 36.6L459.5 39.7L480 45.3L502.2 50.5L526.2 55.2L552.4 59.5L580.5 63.4L611.2 67L644.7 70.2L645.4 70.2M360.5 -3L361 10.6L362.3 45.3L363.7 76L365.5 104.1L367.4 129.9L369.6 152.8L372.1 173.8L374.9 192.6L378.1 209.9L381.6 225.4L385.4 239.5L389.8 252.4L394.7 264.2L397.3 269.8L400.1 275.1L403 280.1L406 284.8L409.3 289.5L412.7 293.9L416.4 298.2L420.3 302.3L424.3 306.2L428.4 309.9L432.9 313.5L437.7 316.9L442.6 320.2L447.7 323.3L458.7 329L470.8 334.3L484.1 339.1L498.9 343.6L515.2 347.7L532.8 351.3L552.2 354.6L573.6 357.7L596.8 360.4L622.6 363L645.4 364.8M440.1 -3L440.7 -1.8L445.2 6.6L449.8 14.6L454.6 22.3L459.6 29.6L464.9 36.8L470.2 43.5L475.9 50.1L481.9 56.4L488.1 62.5L494.5 68.3L501.2 73.9L508.2 79.2L515.3 84.3L522.9 89.2L530.8 94L539 98.5L547.5 102.8L556.3 107L565.4 111L575 114.8L585.1 118.5L595.6 122.1L606.3 125.4L617.5 128.7L629.1 131.7L645.4 135.6M481.8 -3L481.8 482.4M525.1 -3L530.2 19.9L532.9 30.7L535.9 41.3L538.9 51.3L542.1 61L545.5 70.5L549 79.4L552.7 88L556.5 96.2L560.5 104.1L564.7 111.8L569.1 119.1L573.7 126.1L578.5 132.9L583.5 139.4L588.6 145.6L594.1 151.7L599.8 157.4L605.8 163.1L611.9 168.4L618.4 173.5L625.1 178.4L632.1 183.2L639.4 187.7L645.4 191.2M622.7 -3L623 3.3L624.8 32.2L626.8 58.7L629 83.1L631.4 105.4L634.1 126L637 145L640.3 162.7L643.9 179L645.4 184.4"/>
</g>
<rect x="958.8" y="62.4" width="642.4" height="479.4" fill="none" stroke="#262626" stroke-opacity="0.8" stroke-width="1.4"/>
<g transform="translate(958.8,62.4)" clip-path="url(#cp)">
<rect width="642.4" height="479.4" fill="#000"/>
<g shape-rendering="crispEdges">
<path fill="#00008f" fill-rule="evenodd" d="M628 285.3L628.8 286.1L635 291.6L641.6 296.8L642.4 297.4L642.4 285.4Z"/>
<path fill="#0000ef" fill-rule="evenodd" d="M41.6 26L43.1 48.5L44.9 68.1L47 85.3L49.3 100.5L52 113.6L55.1 125.3L58.5 135.3L60.4 139.7L62.4 144L64.6 147.8L66.9 151.4L69.3 154.8L71.9 157.9L74.7 160.8L77.7 163.5L80.9 166L84.3 168.3L88 170.4L91.9 172.4L96 174.2L96.4 174.3L96.4 0L40.2 0L40.2 0.4ZM327.7 78.1L321.9 77.4L327.3 83.6L335 91.4L343.1 98.6L351.7 105.4L353.3 106.5L353.3 80.7L345.8 80.1ZM565.5 110.4L567.3 125.8L569.3 140.2L570.1 145.7L572.4 146.1L588.1 149.1L604.9 151.9L610.3 152.8L610.3 91L593.7 90.7L563.4 90.1L563.8 94ZM336 291.3L339.2 296.2L342.6 300.7L346.2 305.2L350.1 309.4L353.3 312.6L353.3 280L337.7 279.3L329.1 278.8L330.2 280.9L333 286.2ZM561.2 292.4L568.6 298.8L576.4 304.8L585 310.3L594.2 315.6L604 320.4L610.3 323.1L610.3 285.1L553.6 284.6L554.3 285.5Z"/>
<path fill="#0050ff" fill-rule="evenodd" d="M109.6 178.5L120 180.9L126 181.9L125.7 180.6L123.6 173.2L119.9 157.4L116.7 139.3L113.8 118.8L111.3 96.1L109.1 70.2L107.2 41.2L105.5 8.7L105.2 0L96.4 0L96.4 174.3L100.5 175.9ZM409.8 100.9L405.3 88.1L404.2 84.5L386.2 83.4L365.1 81.8L353.3 80.7L353.3 106.5L361 111.7L370.9 117.7L381.3 123.3L392.5 128.5L404.3 133.3L416.7 137.8L417.6 138L417.6 119.4L414.7 113.1ZM642.4 157.3L642.4 91.4L610.3 91L610.3 152.8L622.4 154.6L641.1 157.1ZM642.4 285.4L642.4 281.3L628.8 281.1L623.7 280.9L628 285.3ZM628.8 286.1L628 285.3L610.3 285.1L610.3 323.1L614.7 325L626.1 329.3L638.5 333.3L642.4 334.4L642.4 297.4L641.6 296.8L635 291.6ZM368.8 280.7L353.3 280L353.3 312.6L354.1 313.3L358.4 317.2L363 320.9L367.8 324.3L372.8 327.6L378.3 330.7L383.8 333.7L389.9 336.5L396 339.1L402.7 341.7L417.2 346.4L417.6 346.5L417.6 282.3L404.3 281.9Z"/>
<path fill="#00bfff" fill-rule="evenodd" d="M307 57L313.3 66.4L320.1 75.3L321.9 77.4L327.7 78.1L345.8 80.1L353.3 80.7L353.3 48.8L349.8 47.7L339.4 44.1L329.7 40.2L320.4 36.2L311.5 31.8L303.2 27.2L295.7 22.6L296.2 37.4L301.2 47ZM481.2 93.5L479 87.8L460.4 87.2L423.1 85.4L425.6 87.5L433.8 93.6L442.4 99.4L451.4 104.9L460.8 110L470.8 115L481.4 119.7L492.4 124.1L497 125.7L495.3 122.9L490.4 113.6L485.6 103.8ZM419.8 124.3L417.6 119.4L417.6 138L429.3 141.7L425.3 135ZM303.8 168.1L306.4 189.9L306.4 190.1L353.3 190.5L353.3 106.5L351.7 105.4L343.1 98.6L335 91.4L327.3 83.6L321.9 77.4L311.1 76L297.6 74L298.1 87.3L299.8 117L301.7 143.9ZM501.4 133L501.8 136.1L504 153L504.8 158.1L511.5 159.2L522.9 160.8L518.4 155.8L512.2 148.2L506.2 140.2ZM35.5 253.4L36.4 276.2L37.6 294.9L39.1 310.9L40.8 324.2L43 335.2L45.6 344.4L47.1 348.3L48.8 352L50.6 355.3L52.6 358.3L54.7 361L57.1 363.5L59.7 365.7L62.6 367.7L65.5 369.4L68.7 370.9L75.8 373.5L84.4 375.7L94.4 377.4L96.4 377.7L96.4 174.3L96 174.2L91.9 172.4L88 170.4L84.3 168.3L80.9 166L77.7 163.5L74.7 160.8L71.9 157.9L69.3 154.8L66.9 151.4L64.6 147.8L62.4 144L60.4 139.7L58.5 135.3L55.1 125.3L52 113.6L49.3 100.5L47 85.3L44.9 68.1L43.1 48.5L41.6 26L40.2 0.4L40.2 0L32.8 0L33.2 105.3L34.1 193.5L34.7 226.1ZM337.7 279.3L353.3 280L353.3 264L343.8 262.5L325.7 259L320.7 257.8L324.9 269.4L327.5 275.3L329.1 278.8ZM339.2 296.2L336 291.3L333 286.2L330.2 280.9L329.1 278.8L310.3 277.7L285.5 275.7L264.1 273.4L253.6 272L253.9 273L256.2 279.4L258.7 285.5L261.3 291.3L264.1 296.6L267.1 301.8L270.3 306.6L273.6 311.2L277.3 315.6L281 319.6L285.1 323.5L289.4 327.1L294.1 330.7L298.9 333.9L304.2 337L309.7 340L315.6 342.8L321.9 345.4L328.5 347.9L335.5 350.2L343 352.4L353.3 355L353.3 312.6L350.1 309.4L346.2 305.2L342.6 300.7ZM610.3 8.9L608.2 8.1L608.9 9L610.3 10.7ZM610.3 81.8L575.1 80L562.5 79.1L563.4 90.1L593.7 90.7L610.3 91ZM563.8 94L563.4 90.1L521.1 89.1L497 88.4L497.8 98L499.7 117.9L500.7 127.1L504 128.3L516.4 132.3L529.2 136L542.8 139.6L557.3 143L570.1 145.7L569.3 140.2L567.3 125.8L565.5 110.4ZM574.8 166.9L598.6 169L610.3 170L610.3 152.8L604.9 151.9L588.1 149.1L572.4 146.1L570.1 145.7L571.4 153.8L573.7 166.6L573.7 166.7ZM610.3 264.6L610.3 244.2L603.4 242.8L596.6 241.4L598.8 245.9L603.1 253.5L607.6 260.8ZM610.3 285.1L610.3 280.6L581.7 279.9L548.6 278.8L553.6 284.6ZM470.1 357.8L491.8 360.9L515.7 363.6L542.2 366.1L571.6 368.3L604.3 370.2L610.3 370.5L610.3 323.1L604 320.4L594.2 315.6L585 310.3L576.4 304.8L568.6 298.8L561.2 292.4L554.3 285.5L553.6 284.6L545.9 284.6L492.6 283.9L446.1 283L417.6 282.3L417.6 346.5L433.1 350.6L450.7 354.4Z"/>
<path fill="#20ffdf" fill-rule="evenodd" d="M373.6 25.3L379 34.6L384.6 43.3L390.6 51.7L396.8 59.5L397.3 60.1L397.2 59.8L393.6 44.3L390.2 27.7L387.1 10.2L385.6 0L361.4 0L363.7 5.3L368.5 15.6ZM353.3 48.8L353.3 80.7L365.1 81.8L386.2 83.4L404.2 84.5L401.2 74.5L397.3 60.1L384.6 57.3L372.5 54.3L360.7 51.1ZM397.3 60.1L403.4 67L410.4 74.2L417.6 80.8L417.6 63.9L411 62.7L397.6 60.2ZM107.2 41.2L109.1 70.2L111.3 96.1L113.8 118.8L116.7 139.3L119.9 157.4L123.6 173.2L125.7 180.6L126 181.9L132 182.8L145.6 184.5L160.6 185.8L160.6 0L105.2 0L105.5 8.7ZM392.5 128.5L381.3 123.3L370.9 117.7L361 111.7L353.3 106.5L353.3 190.5L371.6 190.7L417.6 190.9L417.6 138L416.7 137.8L404.3 133.3ZM363.9 265.7L353.3 264L353.3 280L368.8 280.7L404.3 281.9L417.6 282.3L417.6 271.6L410.9 271.1L386.4 268.6ZM150.9 230.3L147.4 226L144.1 221.4L140.9 216.6L138 211.5L135.2 206.1L132.6 200.3L130.2 194.1L127.8 187.6L126 181.9L120 180.9L109.6 178.5L100.5 175.9L96.4 174.3L96.4 377.7L106.6 378.8L121.4 380L139 380.9L160.6 381.5L160.6 239.6L158.6 238L154.7 234.3ZM396 339.1L389.9 336.5L383.8 333.7L378.3 330.7L372.8 327.6L367.8 324.3L363 320.9L358.4 317.2L354.1 313.3L353.3 312.6L353.3 355L359.1 356.4L377.4 360L397.9 363.2L417.6 365.6L417.6 346.5L417.2 346.4L402.7 341.7ZM610.3 10.7L614.3 15.8L620 22.4L625.8 28.7L631.9 34.8L638.2 40.8L642.4 44.5L642.4 20.1L638.1 18.8L618.7 12.2L610.3 8.9ZM642.4 91.4L642.4 83.2L624.5 82.5L610.3 81.8L610.3 91ZM405.3 88.1L409.8 100.9L414.7 113.1L417.6 119.4L417.6 85.2L408.7 84.8L404.2 84.5ZM610.3 170L624.1 171.1L642.4 172.3L642.4 157.3L641.1 157.1L622.4 154.6L610.3 152.8ZM623.7 280.9L628.8 281.1L642.4 281.3L642.4 249.8L639.7 249.4L621.1 246.2L610.3 244.2L610.3 264.6L612.4 267.7L617.6 274.2L623 280.3ZM628 285.3L623.7 280.9L610.3 280.6L610.3 285.1ZM638.5 333.3L626.1 329.3L614.7 325L610.3 323.1L610.3 370.5L640.8 372L642.4 372L642.4 334.4Z"/>
<path fill="#8fff70" fill-rule="evenodd" d="M311.5 31.8L320.4 36.2L329.7 40.2L339.4 44.1L349.8 47.7L353.3 48.8L353.3 0L295.1 0L295.5 15.2L295.7 22.6L303.2 27.2ZM287.1 16.7L290.4 24.9L295.6 36.2L296.2 37.4L295.7 22.6L295.3 22.4L287.7 17.1ZM321.9 77.4L320.1 75.3L313.3 66.4L307 57L301.2 47L296.2 37.4L296.7 53.2L297.6 74L311.1 76ZM479 87.8L476.9 82.6L473.2 71.7L456.6 69.7L440.5 67.5L425.4 65.2L417.6 63.9L417.6 80.8L417.8 81L423.1 85.4L460.4 87.2ZM213.6 188.4L211.7 185L208.7 179.2L205.9 172.9L203.2 166.4L198.3 152.4L193.9 137L189.8 119.7L186.2 100.6L183.1 79.8L180.2 56.7L177.7 30.9L177 22.1L171.2 15.4L165.7 7.9L160.6 0L160.6 185.8L161.4 185.9L179.4 187L200.4 188ZM429.3 141.7L430.1 142L444.3 145.9L459.6 149.6L475.8 153L493.3 156.2L504.8 158.1L504 153L501.8 136.1L501.4 133L500.6 131.8L497 125.7L492.4 124.1L481.4 119.7L470.8 115L460.8 110L451.4 104.9L442.4 99.4L433.8 93.6L425.6 87.5L423.1 85.4L417.6 85.2L417.6 119.4L419.8 124.3L425.3 135ZM298.1 87.3L297.6 74L295.8 73.8L281.8 71.3L268.6 68.5L256.1 65.5L244.6 62.1L233.8 58.5L230.9 57.3L231 61.7L232.3 98.7L233.8 130.4L235.7 159.2L237.7 184L238.3 189L286.4 189.9L306.4 190.1L306.4 189.9L303.8 168.1L301.7 143.9L299.8 117ZM451.6 171.5L444.3 163.1L437.6 154.3L431.2 144.9L429.3 141.7L417.6 138L417.6 190.9L473.3 191.1L467.5 186.6L459.3 179.3ZM320.3 256.7L320.7 257.8L325.7 259L343.8 262.5L353.3 264L353.3 190.5L306.4 190.1L309.2 209.2L312.4 226.7L316.1 242.6ZM65.5 369.4L62.6 367.7L59.7 365.7L57.1 363.5L54.7 361L52.6 358.3L50.6 355.3L48.8 352L47.1 348.3L45.6 344.4L43 335.2L40.8 324.2L39.1 310.9L37.6 294.9L36.4 276.2L35.5 253.4L34.7 226.1L34.1 193.5L33.2 105.3L32.8 0L0 0L0 479.4L96.4 479.4L96.4 377.7L94.4 377.4L84.4 375.7L75.8 373.5L68.7 370.9ZM293.9 250.4L280.5 245.5L274.1 242.8L268 239.9L262.3 236.9L256.9 233.7L251.8 230.4L246.7 226.8L242.5 223.5L242.9 225.8L246.1 243.4L249.7 259.2L251.7 266.2L253.6 272L264.1 273.4L285.5 275.7L310.3 277.7L329.1 278.8L327.5 275.3L324.9 269.4L320.7 257.8L309 254.9ZM303.8 383L353.3 383.1L353.3 355L343 352.4L335.5 350.2L328.5 347.9L321.9 345.4L315.6 342.8L309.7 340L304.2 337L298.9 333.9L294.1 330.7L289.4 327.1L285.1 323.5L281 319.6L277.3 315.6L273.6 311.2L270.3 306.6L267.1 301.8L264.1 296.6L261.3 291.3L258.7 285.5L256.2 279.4L253.9 273L253.6 272L245.1 270.8L228.2 267.9L213 264.4L206 262.4L199.5 260.4L193.4 258.2L187.6 255.9L182.1 253.4L177 250.8L172.1 247.9L167.3 244.8L162.8 241.5L160.6 239.6L160.6 381.5L160.8 381.5L216.9 382.5ZM608.2 8.1L610.3 8.9L610.3 0L602.3 0L603.6 1.9ZM610.3 81.8L610.3 10.7L608.9 9L608.2 8.1L600.5 5.1L589.1 0L557.4 0L558.2 18.1L560.8 58.5L562.5 79.1L575.1 80ZM496 76.4L497 88.4L521.1 89.1L563.4 90.1L562.5 79.1L531.1 77L495.9 74ZM497 125.7L500.7 127.1L499.7 117.9L497.8 98L497 88.4L479 87.8L481.2 93.5L485.6 103.8L490.4 113.6L495.3 122.9ZM542.8 139.6L529.2 136L516.4 132.3L504 128.3L500.7 127.1L501.4 133L506.2 140.2L512.2 148.2L518.4 155.8L522.9 160.8L531.3 161.9L552.4 164.5L573.7 166.7L573.7 166.6L571.4 153.8L570.1 145.7L557.3 143ZM532 169.9L525 163L522.9 160.8L511.5 159.2L504.8 158.1L506.5 168.6L509.3 183.4L511 191.2L559.5 191.3L555.4 188.6L547.2 182.7L539.3 176.4ZM610.3 170L598.6 169L574.8 166.9L573.7 166.7L576.1 178.6L578.7 190L579.1 191.3L610.3 191.3ZM596.6 241.4L603.4 242.8L610.3 244.2L610.3 216.4L603.9 214L593.1 209.4L582.9 204.6L582.7 204.4L584.6 210.8L587.7 220.2L591.2 229.2L594.9 237.8ZM596.6 241.4L586.9 239.2L571.2 235.4L556.6 231.2L542.9 226.8L530.1 222.2L517.9 217.1L517.7 217L519 221.6L523 232.8L527.1 243L531.7 252.7L536.7 261.7L542.2 270.3L548 278.2L548.6 278.8L581.7 279.9L610.3 280.6L610.3 264.6L607.6 260.8L603.1 253.5L598.8 245.9ZM553.6 284.6L548.6 278.8L540.3 278.6L502.7 277L468.7 275.3L438.5 273.3L417.6 271.6L417.6 282.3L446.1 283L492.6 283.9L545.9 284.6ZM506.6 372.4L542.8 374.1L583.3 375.5L610.3 376.2L610.3 370.5L604.3 370.2L571.6 368.3L542.2 366.1L515.7 363.6L491.8 360.9L470.1 357.8L450.7 354.4L433.1 350.6L417.6 346.5L417.6 365.6L420.8 366L446.2 368.4L474.8 370.5Z"/>
<path fill="#efff10" fill-rule="evenodd" d="M384.6 43.3L379 34.6L373.6 25.3L368.5 15.6L363.7 5.3L361.4 0L353.3 0L353.3 48.8L360.7 51.1L372.5 54.3L384.6 57.3L397.3 60.1L396.8 59.5L390.6 51.7ZM390.2 27.7L393.6 44.3L397.2 59.8L397.3 60.1L397.6 60.2L411 62.7L417.6 63.9L417.6 0L385.6 0L387.1 10.2ZM397.3 60.1L401.2 74.5L404.2 84.5L408.7 84.8L417.6 85.2L417.6 80.8L410.4 74.2L403.4 67ZM132 182.8L126 181.9L127.8 187.6L130.2 194.1L132.6 200.3L135.2 206.1L138 211.5L140.9 216.6L144.1 221.4L147.4 226L150.9 230.3L154.7 234.3L158.6 238L160.6 239.6L160.6 185.8L145.6 184.5ZM353.3 264L363.9 265.7L386.4 268.6L410.9 271.1L417.6 271.6L417.6 190.9L371.6 190.7L353.3 190.5ZM359.1 356.4L353.3 355L353.3 383.1L417.6 383.2L417.6 365.6L397.9 363.2L377.4 360ZM121.4 380L106.6 378.8L96.4 377.7L96.4 479.4L160.6 479.4L160.6 381.5L139 380.9ZM642.4 0L610.3 0L610.3 8.9L618.7 12.2L638.1 18.8L642.4 20.1ZM638.2 40.8L631.9 34.8L625.8 28.7L620 22.4L614.3 15.8L610.3 10.7L610.3 81.8L624.5 82.5L642.4 83.2L642.4 44.5ZM610.3 170L610.3 191.3L642.4 191.4L642.4 172.3L624.1 171.1ZM610.3 216.4L610.3 244.2L621.1 246.2L639.7 249.4L642.4 249.8L642.4 227L639.5 226.2L626.9 222.3L615.2 218.3ZM610.3 264.6L610.3 280.6L623.7 280.9L623 280.3L617.6 274.2L612.4 267.7ZM628.6 376.7L642.4 377L642.4 372L640.8 372L610.3 370.5L610.3 376.2Z"/>
<path fill="#ffaf00" fill-rule="evenodd" d="M165.7 7.9L171.2 15.4L177 22.1L175.4 2.8L175.2 0L160.6 0ZM285.5 12.7L287.1 16.7L287.7 17.1L295.3 22.4L295.7 22.6L295.5 15.2L295.1 0L281.1 0ZM456.6 69.7L473.2 71.7L473 71.2L469.2 59L465.7 46.2L462.4 32.9L459.2 18.6L456.3 3.7L455.6 0L417.6 0L417.6 63.9L425.4 65.2L440.5 67.5ZM290.4 24.9L287.1 16.7L280.5 11.7L273.7 5.8L267.7 0L229.5 0L229.9 19.5L230.9 57.3L233.8 58.5L244.6 62.1L256.1 65.5L268.6 68.5L281.8 71.3L295.8 73.8L297.6 74L296.7 53.2L296.2 37.4L295.6 36.2ZM417.6 80.8L417.6 85.2L423.1 85.4L417.8 81ZM186.2 100.6L189.8 119.7L193.9 137L198.3 152.4L203.2 166.4L205.9 172.9L208.7 179.2L211.7 185L213.6 188.4L225.2 188.8L238.3 189L237.7 184L235.7 159.2L233.8 130.4L232.3 98.7L231 61.7L230.9 57.3L223.8 54.5L214.6 50.2L206 45.5L198 40.4L190.6 34.9L183.7 28.9L177.3 22.5L177 22.1L177.7 30.9L180.2 56.7L183.1 79.8ZM506.5 168.6L504.8 158.1L493.3 156.2L475.8 153L459.6 149.6L444.3 145.9L430.1 142L429.3 141.7L431.2 144.9L437.6 154.3L444.3 163.1L451.6 171.5L459.3 179.3L467.5 186.6L473.3 191.1L494.3 191.2L511 191.2L509.3 183.4ZM306.4 190.1L286.4 189.9L238.3 189L240.1 206.1L242.5 223.5L246.7 226.8L251.8 230.4L256.9 233.7L262.3 236.9L268 239.9L274.1 242.8L280.5 245.5L293.9 250.4L309 254.9L320.7 257.8L320.3 256.7L316.1 242.6L312.4 226.7L309.2 209.2ZM177 250.8L182.1 253.4L187.6 255.9L193.4 258.2L199.5 260.4L206 262.4L213 264.4L228.2 267.9L245.1 270.8L253.6 272L251.7 266.2L249.7 259.2L246.1 243.4L242.9 225.8L242.5 223.5L242 223L237.4 219.1L233.3 215L229.2 210.7L225.3 206L221.7 201.2L218.2 196.1L214.8 190.7L213.6 188.4L200.4 188L179.4 187L161.4 185.9L160.6 185.8L160.6 239.6L162.8 241.5L167.3 244.8L172.1 247.9ZM303.8 383L216.9 382.5L160.8 381.5L160.6 381.5L160.6 479.4L353.3 479.4L353.3 383.1ZM602.3 0L589.1 0L600.5 5.1L608.2 8.1L603.6 1.9ZM491.8 0L493 28L494.5 52.9L495.9 74L531.1 77L562.5 79.1L560.8 58.5L558.2 18.1L557.4 0ZM495.9 74L491.7 73.6L473.5 71.7L473.2 71.7L476.9 82.6L479 87.8L497 88.4L496 76.4ZM500.6 131.8L501.4 133L500.7 127.1L497 125.7ZM552.4 164.5L531.3 161.9L522.9 160.8L525 163L532 169.9L539.3 176.4L547.2 182.7L555.4 188.6L559.5 191.3L579.1 191.3L578.7 190L576.1 178.6L573.7 166.7ZM593.1 209.4L603.9 214L610.3 216.4L610.3 191.3L579.1 191.3L581.5 200.7L582.7 204.4L582.9 204.6ZM584.6 210.8L582.7 204.4L573.3 199.5L564.1 194.2L559.5 191.3L511 191.2L512.3 197.1L515.5 209.8L517.7 217L517.9 217.1L530.1 222.2L542.9 226.8L556.6 231.2L571.2 235.4L586.9 239.2L596.6 241.4L594.9 237.8L591.2 229.2L587.7 220.2ZM540.3 278.6L548.6 278.8L548 278.2L542.2 270.3L536.7 261.7L531.7 252.7L527.1 243L523 232.8L519 221.6L517.7 217L506.5 211.8L495.7 206L485.7 199.9L476.4 193.5L473.3 191.1L417.6 190.9L417.6 271.6L438.5 273.3L468.7 275.3L502.7 277ZM583.3 375.5L542.8 374.1L506.6 372.4L474.8 370.5L446.2 368.4L420.8 366L417.6 365.6L417.6 383.2L440.4 383.3L610.3 383.4L610.3 376.2Z"/>
<path fill="#ff4000" fill-rule="evenodd" d="M615.2 218.3L626.9 222.3L639.5 226.2L642.4 227L642.4 191.4L610.3 191.3L610.3 216.4ZM642.4 377L628.6 376.7L610.3 376.2L610.3 383.4L642.4 383.4ZM353.3 383.1L353.3 479.4L417.6 479.4L417.6 383.2Z"/>
<path fill="#df0000" fill-rule="evenodd" d="M280.5 11.7L287.1 16.7L285.5 12.7L281.1 0L267.7 0L273.7 5.8ZM177.3 22.5L183.7 28.9L190.6 34.9L198 40.4L206 45.5L214.6 50.2L223.8 54.5L230.9 57.3L229.9 19.5L229.5 0L175.2 0L175.4 2.8L177 22.1ZM462.4 32.9L465.7 46.2L469.2 59L473 71.2L473.2 71.7L473.5 71.7L491.7 73.6L495.9 74L494.5 52.9L493 28L491.8 0L455.6 0L456.3 3.7L459.2 18.6ZM559.5 191.3L564.1 194.2L573.3 199.5L582.7 204.4L581.5 200.7L579.1 191.3ZM476.4 193.5L485.7 199.9L495.7 206L506.5 211.8L517.7 217L515.5 209.8L512.3 197.1L511 191.2L494.3 191.2L473.3 191.1ZM221.7 201.2L225.3 206L229.2 210.7L233.3 215L237.4 219.1L242 223L242.5 223.5L240.1 206.1L238.3 189L225.2 188.8L213.6 188.4L214.8 190.7L218.2 196.1ZM610.3 383.4L440.4 383.3L417.6 383.2L417.6 479.4L610.3 479.4Z"/>
<path fill="#800000" fill-rule="evenodd" d="M642.4 383.4L610.3 383.4L610.3 479.4L642.4 479.4Z"/>
</g>
<path fill="none" stroke="#000" stroke-width="3.4" stroke-linejoin="round" d="M557.2 -3L558.2 18.1L560.8 58.5L563.8 94L565.5 110.4L567.3 125.8L569.3 140.2L571.4 153.8L573.7 166.6L576.1 178.6L578.7 190L581.5 200.7L584.6 210.8L587.7 220.2L591.2 229.2L594.9 237.8L598.8 245.9L603.1 253.5L607.6 260.8L612.4 267.7L617.6 274.2L623 280.3L628.8 286.1L635 291.6L641.6 296.8L645.4 299.5M417.6 -3L417.6 482.4M455.1 -3L456.3 3.7L459.2 18.6L462.4 32.9L465.7 46.2L469.2 59L473 71.2L476.9 82.6L481.2 93.5L485.6 103.8L490.4 113.6L495.3 122.9L500.6 131.8L506.2 140.2L512.2 148.2L518.4 155.8L525 163L532 169.9L539.3 176.4L547.2 182.7L555.4 188.6L564.1 194.2L573.3 199.5L582.9 204.6L593.1 209.4L603.9 214L615.2 218.3L626.9 222.3L639.5 226.2L645.4 227.9M295 -3L295.5 15.2L296.7 53.2L298.1 87.3L299.8 117L301.7 143.9L303.8 168.1L306.4 189.9L309.2 209.2L312.4 226.7L316.1 242.6L320.3 256.7L324.9 269.4L327.5 275.3L330.2 280.9L333 286.2L336 291.3L339.2 296.2L342.6 300.7L346.2 305.2L350.1 309.4L354.1 313.3L358.4 317.2L363 320.9L367.8 324.3L372.8 327.6L378.3 330.7L383.8 333.7L389.9 336.5L396 339.1L402.7 341.7L417.2 346.4L433.1 350.6L450.7 354.4L470.1 357.8L491.8 360.9L515.7 363.6L542.2 366.1L571.6 368.3L604.3 370.2L640.8 372L645.4 372.1M360.1 -3L363.7 5.3L368.5 15.6L373.6 25.3L379 34.6L384.6 43.3L390.6 51.7L396.8 59.5L403.4 67L410.4 74.2L417.8 81L425.6 87.5L433.8 93.6L442.4 99.4L451.4 104.9L460.8 110L470.8 115L481.4 119.7L492.4 124.1L504 128.3L516.4 132.3L529.2 136L542.8 139.6L557.3 143L572.4 146.1L588.1 149.1L604.9 151.9L622.4 154.6L641.1 157.1L645.4 157.7M160.6 -3L160.6 482.4M175.1 -3L175.4 2.8L177.7 30.9L180.2 56.7L183.1 79.8L186.2 100.6L189.8 119.7L193.9 137L198.3 152.4L203.2 166.4L205.9 172.9L208.7 179.2L211.7 185L214.8 190.7L218.2 196.1L221.7 201.2L225.3 206L229.2 210.7L233.3 215L237.4 219.1L242 223L246.7 226.8L251.8 230.4L256.9 233.7L262.3 236.9L268 239.9L274.1 242.8L280.5 245.5L293.9 250.4L309 254.9L325.7 259L343.8 262.5L363.9 265.7L386.4 268.6L410.9 271.1L438.5 273.3L468.7 275.3L502.7 277L540.3 278.6L581.7 279.9L628.8 281.1L645.4 281.4M264.8 -3L267.3 -0.4L273.7 5.8L280.5 11.7L287.7 17.1L295.3 22.4L303.2 27.2L311.5 31.8L320.4 36.2L329.7 40.2L339.4 44.1L349.8 47.7L360.7 51.1L372.5 54.3L384.6 57.3L397.6 60.2L411 62.7L425.4 65.2L440.5 67.5L456.6 69.7L473.5 71.7L491.7 73.6L531.1 77L575.1 80L624.5 82.5L645.4 83.4M32.8 -3L33.2 105.3L34.1 193.5L34.7 226.1L35.5 253.4L36.4 276.2L37.6 294.9L39.1 310.9L40.8 324.2L43 335.2L45.6 344.4L47.1 348.3L48.8 352L50.6 355.3L52.6 358.3L54.7 361L57.1 363.5L59.7 365.7L62.6 367.7L65.5 369.4L68.7 370.9L75.8 373.5L84.4 375.7L94.4 377.4L106.6 378.8L121.4 380L139 380.9L160.8 381.5L216.9 382.5L303.8 383L440.4 383.3L645.4 383.4M40 -3L40.2 0.4L41.6 26L43.1 48.5L44.9 68.1L47 85.3L49.3 100.5L52 113.6L55.1 125.3L58.5 135.3L60.4 139.7L62.4 144L64.6 147.8L66.9 151.4L69.3 154.8L71.9 157.9L74.7 160.8L77.7 163.5L80.9 166L84.3 168.3L88 170.4L91.9 172.4L96 174.2L100.5 175.9L109.6 178.5L120 180.9L132 182.8L145.6 184.5L161.4 185.9L179.4 187L200.4 188L225.2 188.8L286.4 189.9L371.6 190.7L494.3 191.2L645.4 191.4M289.8 -3L319.4 -2.4L366.5 -1.9L491.3 -1L645.4 -0.6M96.4 -3L96.4 482.4M105.1 -3L105.5 8.7L107.2 41.2L109.1 70.2L111.3 96.1L113.8 118.8L116.7 139.3L119.9 157.4L123.6 173.2L125.7 180.6L127.8 187.6L130.2 194.1L132.6 200.3L135.2 206.1L138 211.5L140.9 216.6L144.1 221.4L147.4 226L150.9 230.3L154.7 234.3L158.6 238L162.8 241.5L167.3 244.8L172.1 247.9L177 250.8L182.1 253.4L187.6 255.9L193.4 258.2L199.5 260.4L206 262.4L213 264.4L228.2 267.9L245.1 270.8L264.1 273.4L285.5 275.7L310.3 277.7L337.7 279.3L368.8 280.7L404.3 281.9L446.1 283L492.6 283.9L545.9 284.6L645.4 285.4M158.9 -3L160.5 -0.2L165.7 7.9L171.2 15.4L177.3 22.5L183.7 28.9L190.6 34.9L198 40.4L206 45.5L214.6 50.2L223.8 54.5L233.8 58.5L244.6 62.1L256.1 65.5L268.6 68.5L281.8 71.3L295.8 73.8L311.1 76L327.7 78.1L345.8 80.1L365.1 81.8L386.2 83.4L408.7 84.8L460.4 87.2L521.1 89.1L593.7 90.7L645.4 91.5M229.5 -3L229.9 19.5L231 61.7L232.3 98.7L233.8 130.4L235.7 159.2L237.7 184L240.1 206.1L242.9 225.8L246.1 243.4L249.7 259.2L251.7 266.2L253.9 273L256.2 279.4L258.7 285.5L261.3 291.3L264.1 296.6L267.1 301.8L270.3 306.6L273.6 311.2L277.3 315.6L281 319.6L285.1 323.5L289.4 327.1L294.1 330.7L298.9 333.9L304.2 337L309.7 340L315.6 342.8L321.9 345.4L328.5 347.9L335.5 350.2L343 352.4L359.1 356.4L377.4 360L397.9 363.2L420.8 366L446.2 368.4L474.8 370.5L506.6 372.4L542.8 374.1L583.3 375.5L628.6 376.7L645.4 377.1M280.1 -3L281 -0.3L285.5 12.7L290.4 24.9L295.6 36.2L301.2 47L307 57L313.3 66.4L320.1 75.3L327.3 83.6L335 91.4L343.1 98.6L351.7 105.4L361 111.7L370.9 117.7L381.3 123.3L392.5 128.5L404.3 133.3L416.7 137.8L430.1 142L444.3 145.9L459.6 149.6L475.8 153L493.3 156.2L511.5 159.2L531.3 161.9L552.4 164.5L574.8 166.9L598.6 169L624.1 171.1L645.4 172.5M353.3 -3L353.3 482.4M385.1 -3L387.1 10.2L390.2 27.7L393.6 44.3L397.2 59.8L401.2 74.5L405.3 88.1L409.8 100.9L414.7 113.1L419.8 124.3L425.3 135L431.2 144.9L437.6 154.3L444.3 163.1L451.6 171.5L459.3 179.3L467.5 186.6L476.4 193.5L485.7 199.9L495.7 206L506.5 211.8L517.9 217.1L530.1 222.2L542.9 226.8L556.6 231.2L571.2 235.4L586.9 239.2L603.4 242.8L621.1 246.2L639.7 249.4L645.4 250.2M582.5 -3L583.5 -2.5L600.5 5.1L618.7 12.2L638.1 18.8L645.4 21M491.7 -3L493 28L494.5 52.9L496 76.4L497.8 98L499.7 117.9L501.8 136.1L504 153L506.5 168.6L509.3 183.4L512.3 197.1L515.5 209.8L519 221.6L523 232.8L527.1 243L531.7 252.7L536.7 261.7L542.2 270.3L548 278.2L554.3 285.5L561.2 292.4L568.6 298.8L576.4 304.8L585 310.3L594.2 315.6L604 320.4L614.7 325L626.1 329.3L638.5 333.3L645.4 335.2M600.2 -3L603.6 1.9L608.9 9L614.3 15.8L620 22.4L625.8 28.7L631.9 34.8L638.2 40.8L644.7 46.5L645.4 47.1M610.3 -3L610.3 482.4"/>
</g>
<rect x="116" y="742.4" width="642.4" height="479.4" fill="none" stroke="#262626" stroke-opacity="0.8" stroke-width="1.4"/>
<g transform="translate(116,742.4)" clip-path="url(#cp)">
<rect width="642.4" height="479.4" fill="#000"/>
<g shape-rendering="crispEdges">
<path fill="#0000ef" fill-rule="evenodd" d="M6.4 191.5L12.8 190.8L19.2 189.7L25.5 188.1L31.6 186L37.6 183.5L43.5 180.6L49.2 177.2L54.7 173.5L59.9 169.4L65.1 164.8L70 159.8L74.7 154.5L79.2 148.7L83.6 142.5L87.8 135.9L91.6 129.2L95.3 122L98.9 114.3L102.3 106.3L105.5 97.8L108.6 88.9L111.6 79.5L114.4 69.6L117 59.3L119.6 48.5L124.3 25.2L128.5 0L0 0L0 191.8ZM518.1 25.2L522.8 48.5L525.4 59.3L528 69.6L530.8 79.5L533.8 88.9L536.9 97.8L540.1 106.3L543.5 114.3L547.1 122L550.8 129.2L554.6 135.9L558.8 142.5L563.2 148.7L567.7 154.5L572.4 159.8L577.3 164.8L582.5 169.4L587.7 173.5L593.2 177.2L598.9 180.6L604.8 183.5L610.8 186L616.9 188.1L623.2 189.7L629.5 190.8L635.9 191.5L642.3 191.8L642.4 191.8L642.4 0L513.9 0Z"/>
<path fill="#00bfff" fill-rule="evenodd" d="M12.6 383.2L25.1 382.3L37.2 380.8L48.7 378.8L59.4 376.2L69.3 373.1L78.5 369.5L87 365.3L94.5 360.8L101.6 355.6L107.9 350L113.6 343.7L118.8 336.9L123.6 329.3L127.9 320.8L131.7 311.8L135 302.3L138.1 291.7L140.7 280.5L143.1 268L145.3 254.4L147.2 239.3L149 223L150.5 204.7L151.8 184.9L153.1 162.8L155 112.5L156.6 49.3L157.3 0L128.5 0L124.3 25.2L119.6 48.5L117 59.3L114.4 69.6L111.6 79.5L108.6 88.9L105.5 97.8L102.3 106.3L98.9 114.3L95.3 122L91.6 129.2L87.8 135.9L83.6 142.5L79.2 148.7L74.7 154.5L70 159.8L65.1 164.8L59.9 169.4L54.7 173.5L49.2 177.2L43.5 180.6L37.6 183.5L31.6 186L25.5 188.1L19.2 189.7L12.8 190.8L6.4 191.5L0 191.8L0 383.5ZM485.8 49.3L487.4 112.5L489.3 162.8L490.6 184.9L491.9 204.7L493.4 223L495.2 239.3L497.1 254.4L499.3 268L501.7 280.5L504.3 291.7L507.4 302.3L510.7 311.8L514.5 320.8L518.8 329.3L523.6 336.9L528.8 343.7L534.5 350L540.8 355.6L547.9 360.8L555.4 365.3L563.9 369.5L573.1 373.1L583 376.2L593.7 378.8L605.1 380.8L617.1 382.3L629.6 383.2L642.3 383.5L642.4 383.5L642.4 191.8L642.3 191.8L635.9 191.5L629.5 190.8L623.2 189.7L616.9 188.1L610.8 186L604.8 183.5L598.9 180.6L593.2 177.2L587.7 173.5L582.5 169.4L577.3 164.8L572.4 159.8L567.7 154.5L563.2 148.7L558.8 142.5L554.6 135.9L550.8 129.2L547.1 122L543.5 114.3L540.1 106.3L536.9 97.8L533.8 88.9L530.8 79.5L528 69.6L525.4 59.3L522.8 48.5L518.1 25.2L513.9 0L485.1 0Z"/>
<path fill="#8fff70" fill-rule="evenodd" d="M156.6 49.3L155 112.5L153.1 162.8L151.8 184.9L150.5 204.7L149 223L147.2 239.3L145.3 254.4L143.1 268L140.7 280.5L138.1 291.7L135 302.3L131.7 311.8L127.9 320.8L123.6 329.3L118.8 336.9L113.6 343.7L107.9 350L101.6 355.6L94.5 360.8L87 365.3L78.5 369.5L69.3 373.1L59.4 376.2L48.7 378.8L37.2 380.8L25.1 382.3L12.6 383.2L0 383.5L0 479.4L160.6 479.4L160.6 0L157.3 0ZM481.8 479.4L642.4 479.4L642.4 383.5L642.3 383.5L629.6 383.2L617.1 382.3L605.1 380.8L593.7 378.8L583 376.2L573.1 373.1L563.9 369.5L555.4 365.3L547.9 360.8L540.8 355.6L534.5 350L528.8 343.7L523.6 336.9L518.8 329.3L514.5 320.8L510.7 311.8L507.4 302.3L504.3 291.7L501.7 280.5L499.3 268L497.1 254.4L495.2 239.3L493.4 223L491.9 204.7L490.6 184.9L489.3 162.8L487.4 112.5L485.8 49.3L485.1 0L481.8 0Z"/>
<path fill="#efff10" fill-rule="evenodd" d="M160.6 0L160.6 479.4L481.8 479.4L481.8 0L468.3 0L467.3 18.2L464.2 58.5L462.5 76.4L460.5 93.7L458.5 109.9L456.3 125L453.9 139.1L451.3 152.5L448.5 164.8L445.5 176.4L442.3 187.3L439 197.4L435.3 207L431.4 215.9L427.1 224.4L422.4 232.4L417.4 239.9L412.1 246.7L406.5 253L400.5 258.8L394.2 264.1L387.4 268.9L380.2 273.2L372.7 276.9L364.7 280.2L356.5 282.8L347.9 284.9L339.1 286.4L330.1 287.3L321.1 287.6L312.1 287.3L303.2 286.4L294.4 284.9L285.8 282.8L277.6 280.1L269.7 276.9L262.2 273.2L255 268.9L248.2 264.1L241.9 258.8L235.9 253L230.3 246.7L225 239.9L220 232.4L215.3 224.4L211 215.9L207.1 207L203.4 197.4L200.1 187.3L196.9 176.4L193.9 164.8L191.1 152.5L188.5 139.1L186.1 125L183.9 109.9L181.9 93.7L179.9 76.4L178.2 58.5L175.1 18.2L174.1 0Z"/>
<path fill="#ff4000" fill-rule="evenodd" d="M174.1 0L175.1 18.2L178.2 58.5L179.9 76.4L181.9 93.7L183.9 109.9L186.1 125L188.5 139.1L191.1 152.5L193.9 164.8L196.9 176.4L200.1 187.3L203.4 197.4L207.1 207L211 215.9L215.3 224.4L220 232.4L225 239.9L230.3 246.7L235.9 253L241.9 258.8L248.2 264.1L255 268.9L262.2 273.2L269.7 276.9L277.6 280.1L285.8 282.8L294.4 284.9L303.2 286.4L312.1 287.3L321.1 287.6L330.1 287.3L339.1 286.4L347.9 284.9L356.5 282.8L364.7 280.2L372.7 276.9L380.2 273.2L387.4 268.9L394.2 264.1L400.5 258.8L406.5 253L412.1 246.7L417.4 239.9L422.4 232.4L427.1 224.4L431.4 215.9L435.3 207L439 197.4L442.3 187.3L445.5 176.4L448.5 164.8L451.3 152.5L453.9 139.1L456.3 125L458.5 109.9L460.5 93.7L462.5 76.4L464.2 58.5L467.3 18.2L468.3 0L417.6 0L412.7 12.7L407.5 24.7L401.9 35.8L396.1 45.9L389.9 55.1L383.5 63.3L376.6 70.8L369.4 77.4L361.9 83L358 85.4L354.1 87.6L350.1 89.5L346.1 91.2L342 92.6L337.9 93.8L333.8 94.7L329.6 95.4L325.4 95.8L321.2 95.9L316.9 95.7L312.7 95.3L308.5 94.7L304.4 93.8L300.3 92.6L296.2 91.1L292.2 89.5L288.2 87.5L284.3 85.4L280.5 82.9L272.9 77.3L265.8 70.8L258.9 63.3L252.5 55.1L246.3 45.9L240.5 35.8L234.9 24.7L229.7 12.7L224.8 0Z"/>
<path fill="#800000" fill-rule="evenodd" d="M224.8 0L229.7 12.7L234.9 24.7L240.5 35.8L246.3 45.9L252.5 55.1L258.9 63.3L265.8 70.8L272.9 77.3L280.5 82.9L284.3 85.4L288.2 87.5L292.2 89.5L296.2 91.1L300.3 92.6L304.4 93.8L308.5 94.7L312.7 95.3L316.9 95.7L321.2 95.9L325.4 95.8L329.6 95.4L333.8 94.7L337.9 93.8L342 92.6L346.1 91.2L350.1 89.5L354.1 87.6L358 85.4L361.9 83L369.4 77.4L376.6 70.8L383.5 63.3L389.9 55.1L396.1 45.9L401.9 35.8L407.5 24.7L412.7 12.7L417.6 0Z"/>
</g>
<path fill="none" stroke="#000" stroke-width="3.4" stroke-linejoin="round" d="M-3 383.4L-0.1 383.5L12.6 383.2L25.1 382.3L37.2 380.8L48.7 378.8L59.4 376.2L69.3 373.1L78.5 369.5L87 365.3L94.5 360.8L101.6 355.6L107.9 350L113.6 343.7L118.8 336.9L123.6 329.3L127.9 320.8L131.7 311.8L135 302.3L138.1 291.7L140.7 280.5L143.1 268L145.3 254.4L147.2 239.3L149 223L150.5 204.7L151.8 184.9L153.1 162.8L155 112.5L156.6 49.3L157.3 -3M-3 191.7L-0.1 191.8L6.4 191.5L12.8 190.8L19.2 189.7L25.5 188.1L31.6 186L37.6 183.5L43.5 180.6L49.2 177.2L54.7 173.5L59.9 169.4L65.1 164.8L70 159.8L74.7 154.5L79.2 148.7L83.6 142.5L87.8 135.9L91.6 129.2L95.3 122L98.9 114.3L102.3 106.3L105.5 97.8L108.6 88.9L111.6 79.5L114.4 69.6L117 59.3L119.6 48.5L124.3 25.2L128.6 -0.7L128.9 -3M-3 -0.2L0 0L7 -0.5L14 -1.8L17.5 -3M160.6 -3L160.6 482.4M481.8 -3L481.8 482.4M173.9 -3L175.1 18.2L178.2 58.5L179.9 76.4L181.9 93.7L183.9 109.9L186.1 125L188.5 139.1L191.1 152.5L193.9 164.8L196.9 176.4L200.1 187.3L203.4 197.4L207.1 207L211 215.9L215.3 224.4L220 232.4L225 239.9L230.3 246.7L235.9 253L241.9 258.8L248.2 264.1L255 268.9L262.2 273.2L269.7 276.9L277.6 280.1L285.8 282.8L294.4 284.9L303.2 286.4L312.1 287.3L321.1 287.6L330.1 287.3L339.1 286.4L347.9 284.9L356.5 282.8L364.7 280.2L372.7 276.9L380.2 273.2L387.4 268.9L394.2 264.1L400.5 258.8L406.5 253L412.1 246.7L417.4 239.9L422.4 232.4L427.1 224.4L431.4 215.9L435.3 207L439 197.4L442.3 187.3L445.5 176.4L448.5 164.8L451.3 152.5L453.9 139.1L456.3 125L458.5 109.9L460.5 93.7L462.5 76.4L464.2 58.5L467.3 18.2L468.5 -3M223.8 -3L224.8 -0.2L229.7 12.7L234.9 24.7L240.5 35.8L246.3 45.9L252.5 55.1L258.9 63.3L265.8 70.8L272.9 77.3L280.5 82.9L284.3 85.4L288.2 87.5L292.2 89.5L296.2 91.1L300.3 92.6L304.4 93.8L308.5 94.7L312.7 95.3L316.9 95.7L321.2 95.9L325.4 95.8L329.6 95.4L333.8 94.7L337.9 93.8L342 92.6L346.1 91.2L350.1 89.5L354.1 87.6L358 85.4L361.9 83L369.4 77.4L376.6 70.8L383.5 63.3L389.9 55.1L396.1 45.9L401.9 35.8L407.5 24.7L412.7 12.7L417.6 -0.2L418.6 -3M485.1 -3L485.8 49.3L487.4 112.5L489.3 162.8L490.6 184.9L491.9 204.7L493.4 223L495.2 239.3L497.1 254.4L499.3 268L501.7 280.5L504.3 291.7L507.4 302.3L510.7 311.8L514.5 320.8L518.8 329.3L523.6 336.9L528.8 343.7L534.5 350L540.8 355.6L547.9 360.8L555.4 365.3L563.9 369.5L573.1 373.1L583 376.2L593.7 378.8L605.1 380.8L617.1 382.3L629.6 383.2L642.3 383.5L645.4 383.4M513.5 -3L513.8 -0.7L518.1 25.2L522.8 48.5L525.4 59.3L528 69.6L530.8 79.5L533.8 88.9L536.9 97.8L540.1 106.3L543.5 114.3L547.1 122L550.8 129.2L554.6 135.9L558.8 142.5L563.2 148.7L567.7 154.5L572.4 159.8L577.3 164.8L582.5 169.4L587.7 173.5L593.2 177.2L598.9 180.6L604.8 183.5L610.8 186L616.9 188.1L623.2 189.7L629.5 190.8L635.9 191.5L642.3 191.8L645.4 191.7M624.9 -3L628.4 -1.8L635.4 -0.5L642.4 0L645.4 -0.2"/>
</g>
<rect x="958.8" y="742.4" width="642.4" height="479.4" fill="none" stroke="#262626" stroke-opacity="0.8" stroke-width="1.4"/>
<g transform="translate(958.8,742.4)" clip-path="url(#cp)">
<rect width="642.4" height="479.4" fill="#000"/>
<g shape-rendering="crispEdges">
<path fill="#0000ef" fill-rule="evenodd" d="M192.7 0L196.9 25.2L201.6 48.5L204.2 59.3L206.8 69.6L209.6 79.5L212.6 88.9L215.7 97.8L218.9 106.3L222.3 114.3L225.9 122L229.6 129.2L233.4 135.9L237.6 142.5L242 148.7L246.5 154.5L251.2 159.8L256.1 164.8L261.3 169.4L266.5 173.5L272 177.2L277.7 180.6L283.6 183.5L289.6 186L295.7 188.1L302 189.7L308.3 190.8L314.7 191.5L321.1 191.8L327.6 191.5L334 190.8L340.4 189.7L346.7 188.1L352.8 186L358.8 183.5L364.7 180.6L370.4 177.2L375.9 173.5L381.1 169.4L386.3 164.8L391.2 159.8L395.9 154.5L400.4 148.7L404.8 142.5L409 135.9L412.8 129.2L416.5 122L420.1 114.3L423.5 106.3L426.7 97.8L429.8 88.9L432.8 79.5L435.6 69.6L438.2 59.3L440.8 48.5L445.5 25.2L449.7 0Z"/>
<path fill="#00bfff" fill-rule="evenodd" d="M163.9 0L164.6 49.3L166.2 112.5L168.1 162.8L169.4 184.9L170.7 204.7L172.2 223L174 239.3L175.9 254.4L178.1 268L180.5 280.5L183.1 291.7L186.2 302.3L189.5 311.8L193.3 320.8L197.6 329.3L202.4 336.9L207.6 343.7L213.3 350L219.6 355.6L226.7 360.8L234.2 365.3L242.7 369.5L251.9 373.1L261.8 376.2L272.5 378.8L283.9 380.8L295.9 382.3L308.4 383.2L321.1 383.5L333.8 383.2L346.3 382.3L358.4 380.8L369.9 378.8L380.6 376.2L390.5 373.1L399.7 369.5L408.2 365.3L415.7 360.8L422.8 355.6L429.1 350L434.8 343.7L440 336.9L444.8 329.3L449.1 320.8L452.9 311.8L456.2 302.3L459.3 291.7L461.9 280.5L464.3 268L466.5 254.4L468.4 239.3L470.2 223L471.7 204.7L473 184.9L474.3 162.8L476.2 112.5L477.8 49.3L478.5 0L449.7 0L445.5 25.2L440.8 48.5L438.2 59.3L435.6 69.6L432.8 79.5L429.8 88.9L426.7 97.8L423.5 106.3L420.1 114.3L416.5 122L412.8 129.2L409 135.9L404.8 142.5L400.4 148.7L395.9 154.5L391.2 159.8L386.3 164.8L381.1 169.4L375.9 173.5L370.4 177.2L364.7 180.6L358.8 183.5L352.8 186L346.7 188.1L340.4 189.7L334 190.8L327.6 191.5L321.1 191.8L314.7 191.5L308.3 190.8L302 189.7L295.7 188.1L289.6 186L283.6 183.5L277.7 180.6L272 177.2L266.5 173.5L261.3 169.4L256.1 164.8L251.2 159.8L246.5 154.5L242 148.7L237.6 142.5L233.4 135.9L229.6 129.2L225.9 122L222.3 114.3L218.9 106.3L215.7 97.8L212.6 88.9L209.6 79.5L206.8 69.6L204.2 59.3L201.6 48.5L196.9 25.2L192.7 0Z"/>
<path fill="#8fff70" fill-rule="evenodd" d="M160.6 0L160.6 479.4L481.8 479.4L481.8 0L478.5 0L477.8 49.3L476.2 112.5L474.3 162.8L473 184.9L471.7 204.7L470.2 223L468.4 239.3L466.5 254.4L464.3 268L461.9 280.5L459.3 291.7L456.2 302.3L452.9 311.8L449.1 320.8L444.8 329.3L440 336.9L434.8 343.7L429.1 350L422.8 355.6L415.7 360.8L408.2 365.3L399.7 369.5L390.5 373.1L380.6 376.2L369.9 378.8L358.4 380.8L346.3 382.3L333.8 383.2L321.1 383.5L308.4 383.2L295.9 382.3L283.9 380.8L272.5 378.8L261.8 376.2L251.9 373.1L242.7 369.5L234.2 365.3L226.7 360.8L219.6 355.6L213.3 350L207.6 343.7L202.4 336.9L197.6 329.3L193.3 320.8L189.5 311.8L186.2 302.3L183.1 291.7L180.5 280.5L178.1 268L175.9 254.4L174 239.3L172.2 223L170.7 204.7L169.4 184.9L168.1 162.8L166.2 112.5L164.6 49.3L163.9 0Z"/>
<path fill="#efff10" fill-rule="evenodd" d="M160.6 0L147.1 0L146.1 18.2L143 58.5L141.3 76.4L139.3 93.7L137.3 109.9L135.1 125L132.7 139.1L130.1 152.5L127.3 164.8L124.3 176.4L121.1 187.3L117.8 197.4L114.1 207L110.2 215.9L105.9 224.4L101.2 232.4L96.2 239.9L90.9 246.7L85.3 253L79.3 258.8L73 264.1L66.2 268.9L59 273.2L51.5 276.9L43.5 280.2L35.3 282.8L26.7 284.9L17.9 286.4L8.9 287.3L0 287.6L0 479.4L160.6 479.4ZM481.8 479.4L642.4 479.4L642.4 287.6L642.3 287.6L633.3 287.3L624.4 286.4L615.6 284.9L607 282.8L598.8 280.1L590.9 276.9L583.4 273.2L576.2 268.9L569.4 264.1L563.1 258.8L557.1 253L551.5 246.7L546.2 239.9L541.2 232.4L536.5 224.4L532.2 215.9L528.3 207L524.6 197.4L521.3 187.3L518.1 176.4L515.1 164.8L512.3 152.5L509.7 139.1L507.3 125L505.1 109.9L503.1 93.7L501.1 76.4L499.4 58.5L496.3 18.2L495.3 0L481.8 0Z"/>
<path fill="#ff4000" fill-rule="evenodd" d="M8.9 287.3L17.9 286.4L26.7 284.9L35.3 282.8L43.5 280.2L51.5 276.9L59 273.2L66.2 268.9L73 264.1L79.3 258.8L85.3 253L90.9 246.7L96.2 239.9L101.2 232.4L105.9 224.4L110.2 215.9L114.1 207L117.8 197.4L121.1 187.3L124.3 176.4L127.3 164.8L130.1 152.5L132.7 139.1L135.1 125L137.3 109.9L139.3 93.7L141.3 76.4L143 58.5L146.1 18.2L147.1 0L96.4 0L91.5 12.7L86.3 24.7L80.7 35.8L74.9 45.9L68.7 55.1L62.3 63.3L55.4 70.8L48.2 77.4L40.7 83L36.8 85.4L32.9 87.6L28.9 89.5L24.9 91.2L20.8 92.6L16.7 93.8L12.6 94.7L8.4 95.4L4.2 95.8L0 95.9L0 287.6ZM496.3 18.2L499.4 58.5L501.1 76.4L503.1 93.7L505.1 109.9L507.3 125L509.7 139.1L512.3 152.5L515.1 164.8L518.1 176.4L521.3 187.3L524.6 197.4L528.3 207L532.2 215.9L536.5 224.4L541.2 232.4L546.2 239.9L551.5 246.7L557.1 253L563.1 258.8L569.4 264.1L576.2 268.9L583.4 273.2L590.9 276.9L598.8 280.1L607 282.8L615.6 284.9L624.4 286.4L633.3 287.3L642.3 287.6L642.4 287.6L642.4 95.9L638.1 95.7L633.9 95.3L629.7 94.7L625.6 93.8L621.5 92.6L617.4 91.1L613.4 89.5L609.4 87.5L605.5 85.4L601.7 82.9L594.1 77.3L587 70.8L580.1 63.3L573.7 55.1L567.5 45.9L561.7 35.8L556.1 24.7L550.9 12.7L546 0L495.3 0Z"/>
<path fill="#800000" fill-rule="evenodd" d="M4.2 95.8L8.4 95.4L12.6 94.7L16.7 93.8L20.8 92.6L24.9 91.2L28.9 89.5L32.9 87.6L36.8 85.4L40.7 83L48.2 77.4L55.4 70.8L62.3 63.3L68.7 55.1L74.9 45.9L80.7 35.8L86.3 24.7L91.5 12.7L96.4 0L0 0L0 95.9ZM550.9 12.7L556.1 24.7L561.7 35.8L567.5 45.9L573.7 55.1L580.1 63.3L587 70.8L594.1 77.3L601.7 82.9L605.5 85.4L609.4 87.5L613.4 89.5L617.4 91.1L621.5 92.6L625.6 93.8L629.7 94.7L633.9 95.3L638.1 95.7L642.4 95.9L642.4 0L546 0Z"/>
</g>
<path fill="none" stroke="#000" stroke-width="3.4" stroke-linejoin="round" d="M160.6 -3L160.6 482.4M-3 287.5L-0.1 287.6L8.9 287.3L17.9 286.4L26.7 284.9L35.3 282.8L43.5 280.2L51.5 276.9L59 273.2L66.2 268.9L73 264.1L79.3 258.8L85.3 253L90.9 246.7L96.2 239.9L101.2 232.4L105.9 224.4L110.2 215.9L114.1 207L117.8 197.4L121.1 187.3L124.3 176.4L127.3 164.8L130.1 152.5L132.7 139.1L135.1 125L137.3 109.9L139.3 93.7L141.3 76.4L143 58.5L146.1 18.2L147.3 -3M-3 95.8L0 95.9L4.2 95.8L8.4 95.4L12.6 94.7L16.7 93.8L20.8 92.6L24.9 91.2L28.9 89.5L32.9 87.6L36.8 85.4L40.7 83L48.2 77.4L55.4 70.8L62.3 63.3L68.7 55.1L74.9 45.9L80.7 35.8L86.3 24.7L91.5 12.7L96.4 -0.2L97.4 -3M163.9 -3L164.6 49.3L166.2 112.5L168.1 162.8L169.4 184.9L170.7 204.7L172.2 223L174 239.3L175.9 254.4L178.1 268L180.5 280.5L183.1 291.7L186.2 302.3L189.5 311.8L193.3 320.8L197.6 329.3L202.4 336.9L207.6 343.7L213.3 350L219.6 355.6L226.7 360.8L234.2 365.3L242.7 369.5L251.9 373.1L261.8 376.2L272.5 378.8L283.9 380.8L295.9 382.3L308.4 383.2L321.1 383.5L333.8 383.2L346.3 382.3L358.4 380.8L369.9 378.8L380.6 376.2L390.5 373.1L399.7 369.5L408.2 365.3L415.7 360.8L422.8 355.6L429.1 350L434.8 343.7L440 336.9L444.8 329.3L449.1 320.8L452.9 311.8L456.2 302.3L459.3 291.7L461.9 280.5L464.3 268L466.5 254.4L468.4 239.3L470.2 223L471.7 204.7L473 184.9L474.3 162.8L476.2 112.5L477.8 49.3L478.5 -3M192.3 -3L192.6 -0.7L196.9 25.2L201.6 48.5L204.2 59.3L206.8 69.6L209.6 79.5L212.6 88.9L215.7 97.8L218.9 106.3L222.3 114.3L225.9 122L229.6 129.2L233.4 135.9L237.6 142.5L242 148.7L246.5 154.5L251.2 159.8L256.1 164.8L261.3 169.4L266.5 173.5L272 177.2L277.7 180.6L283.6 183.5L289.6 186L295.7 188.1L302 189.7L308.3 190.8L314.7 191.5L321.1 191.8L327.6 191.5L334 190.8L340.4 189.7L346.7 188.1L352.8 186L358.8 183.5L364.7 180.6L370.4 177.2L375.9 173.5L381.1 169.4L386.3 164.8L391.2 159.8L395.9 154.5L400.4 148.7L404.8 142.5L409 135.9L412.8 129.2L416.5 122L420.1 114.3L423.5 106.3L426.7 97.8L429.8 88.9L432.8 79.5L435.6 69.6L438.2 59.3L440.8 48.5L445.5 25.2L449.8 -0.7L450.1 -3M303.7 -3L307.2 -1.8L314.2 -0.5L321.2 0L328.2 -0.5L335.2 -1.8L338.7 -3M481.8 -3L481.8 482.4M495.1 -3L496.3 18.2L499.4 58.5L501.1 76.4L503.1 93.7L505.1 109.9L507.3 125L509.7 139.1L512.3 152.5L515.1 164.8L518.1 176.4L521.3 187.3L524.6 197.4L528.3 207L532.2 215.9L536.5 224.4L541.2 232.4L546.2 239.9L551.5 246.7L557.1 253L563.1 258.8L569.4 264.1L576.2 268.9L583.4 273.2L590.9 276.9L598.8 280.1L607 282.8L615.6 284.9L624.4 286.4L633.3 287.3L642.3 287.6L645.4 287.5M545 -3L546 -0.2L550.9 12.7L556.1 24.7L561.7 35.8L567.5 45.9L573.7 55.1L580.1 63.3L587 70.8L594.1 77.3L601.7 82.9L605.5 85.4L609.4 87.5L613.4 89.5L617.4 91.1L621.5 92.6L625.6 93.8L629.7 94.7L633.9 95.3L638.1 95.7L642.4 95.9L645.4 95.8"/>
</g>
<rect x="1621.4" y="426.6" width="44.2" height="454.0" fill="url(#jet)" stroke="#262626" stroke-width="1.2"/>
<path d="M1665.6000000000001 653.6h-5" stroke="#262626" stroke-width="1.2"/>
<text><tspan x="1681.58" y="446.10" font-size="50.18" class="a">5</tspan></text>
<text><tspan x="1681.41" y="672.51" font-size="48.76" class="a">0</tspan></text>
<text><tspan x="1681.79" y="895.85" font-size="49.03" class="a">-</tspan><tspan x="1698.29" y="899.72" font-size="48.32" class="a">5</tspan></text>
<text class="k"><tspan x="363.00" y="42.33" font-size="61.05" stroke="#fff" stroke-width="0.70">(</tspan><tspan x="385.50" y="41.46" font-size="53.96">a</tspan><tspan x="410.36" y="42.33" font-size="61.05" stroke="#fff" stroke-width="0.70">)</tspan> <tspan x="452.70" y="41.47" font-size="52.98" font-style="italic">w</tspan><tspan x="489.13" y="49.93" font-size="37.48">0</tspan></text>
<text class="k"><tspan x="1202.50" y="42.33" font-size="61.05" stroke="#fff" stroke-width="0.70">(</tspan><tspan x="1224.71" y="41.45" font-size="55.32">b</tspan><tspan x="1253.51" y="42.33" font-size="61.05" stroke="#fff" stroke-width="0.70">)</tspan> <tspan x="1294.25" y="41.47" font-size="52.98" font-style="italic">w</tspan><tspan x="1333.00" y="49.63" font-size="36.60" font-style="italic">&#960;</tspan></text>
<text class="k"><tspan x="364.60" y="722.33" font-size="61.05" stroke="#fff" stroke-width="0.70">(</tspan><tspan x="385.11" y="721.46" font-size="53.96">c</tspan><tspan x="409.06" y="722.33" font-size="61.05" stroke="#fff" stroke-width="0.70">)</tspan> <tspan x="450.65" y="721.47" font-size="52.98" font-style="italic">w</tspan><tspan x="488.13" y="729.93" font-size="37.48">0</tspan></text>
<text class="k"><tspan x="1202.80" y="722.33" font-size="61.05" stroke="#fff" stroke-width="0.70">(</tspan><tspan x="1223.85" y="721.45" font-size="55.32">d</tspan><tspan x="1253.51" y="722.33" font-size="61.05" stroke="#fff" stroke-width="0.70">)</tspan> <tspan x="1294.25" y="721.47" font-size="52.98" font-style="italic">w</tspan><tspan x="1333.00" y="729.63" font-size="36.60" font-style="italic">&#960;</tspan></text>
<text><tspan x="102.65" y="605.25" font-size="55.41">0</tspan></text>
<text><tspan x="359.44" y="604.90" font-size="54.64">2</tspan></text>
<text><tspan x="615.32" y="604.90" font-size="55.06">4</tspan></text>
<text><tspan x="71.52" y="555.25" font-size="55.11">0</tspan></text>
<text><tspan x="72.13" y="363.54" font-size="54.64">2</tspan></text>
<text><tspan x="70.40" y="171.78" font-size="55.06">4</tspan></text>
<text class="k"><tspan x="394.26" y="653.22" font-size="58.05" font-style="italic">J</tspan><tspan x="425.31" y="664.79" font-size="81.04" stroke="#fff" stroke-width="1.30">/</tspan><tspan x="452.38" y="652.48" font-size="52.34" font-style="italic">&#960;</tspan></text>
<text class="k" transform="translate(0,0) rotate(-90)"><tspan x="-350.04" y="41.30" font-size="58.64">&#916;</tspan><tspan x="-305.54" y="52.99" font-size="81.04" stroke="#fff" stroke-width="1.30">/</tspan><tspan x="-276.10" y="40.80" font-size="50.00" font-style="italic">&#960;</tspan></text>
<text><tspan x="945.45" y="605.25" font-size="55.41">0</tspan></text>
<text><tspan x="1202.24" y="604.90" font-size="54.64">2</tspan></text>
<text><tspan x="1458.12" y="604.90" font-size="55.06">4</tspan></text>
<text><tspan x="914.32" y="555.25" font-size="55.11">0</tspan></text>
<text><tspan x="914.93" y="363.54" font-size="54.64">2</tspan></text>
<text><tspan x="913.20" y="171.78" font-size="55.06">4</tspan></text>
<text class="k"><tspan x="1237.06" y="653.22" font-size="58.05" font-style="italic">J</tspan><tspan x="1268.11" y="664.79" font-size="81.04" stroke="#fff" stroke-width="1.30">/</tspan><tspan x="1295.18" y="652.48" font-size="52.34" font-style="italic">&#960;</tspan></text>
<text><tspan x="92.81" y="1286.41" font-size="50.67">-</tspan><tspan x="111.23" y="1284.90" font-size="54.85">1</tspan></text>
<text><tspan x="422.75" y="1285.25" font-size="55.41">0</tspan></text>
<text><tspan x="742.83" y="1284.90" font-size="54.85">1</tspan></text>
<text><tspan x="71.52" y="1235.25" font-size="55.11">0</tspan></text>
<text><tspan x="72.13" y="1043.54" font-size="54.64">2</tspan></text>
<text><tspan x="70.40" y="851.78" font-size="55.06">4</tspan></text>
<text class="k"><tspan x="411.09" y="1349.40" font-size="53.04" font-style="italic">&#956;</tspan><tspan x="442.51" y="1362.39" font-size="81.04" stroke="#fff" stroke-width="1.30">/</tspan><tspan x="470.60" y="1349.78" font-size="51.70" font-style="italic">&#960;</tspan></text>
<text class="k" transform="translate(0,681.9) rotate(-90)"><tspan x="-350.04" y="41.30" font-size="58.64">&#916;</tspan><tspan x="-305.54" y="52.99" font-size="81.04" stroke="#fff" stroke-width="1.30">/</tspan><tspan x="-276.10" y="40.80" font-size="50.00" font-style="italic">&#960;</tspan></text>
<text><tspan x="935.61" y="1286.41" font-size="50.67">-</tspan><tspan x="954.03" y="1284.90" font-size="54.85">1</tspan></text>
<text><tspan x="1265.55" y="1285.25" font-size="55.41">0</tspan></text>
<text><tspan x="1585.63" y="1284.90" font-size="54.85">1</tspan></text>
<text><tspan x="914.32" y="1235.25" font-size="55.11">0</tspan></text>
<text><tspan x="914.93" y="1043.54" font-size="54.64">2</tspan></text>
<text><tspan x="913.20" y="851.78" font-size="55.06">4</tspan></text>
<text class="k"><tspan x="1253.89" y="1349.40" font-size="53.04" font-style="italic">&#956;</tspan><tspan x="1285.31" y="1362.39" font-size="81.04" stroke="#fff" stroke-width="1.30">/</tspan><tspan x="1313.40" y="1349.78" font-size="51.70" font-style="italic">&#960;</tspan></text>
</svg></body></html>
